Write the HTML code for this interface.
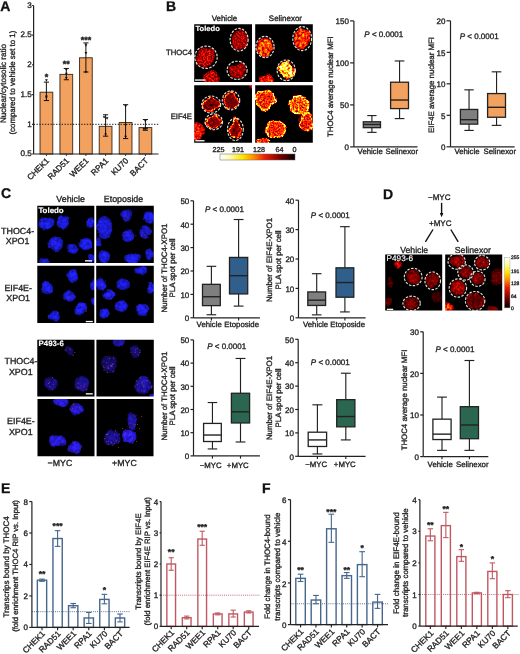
<!DOCTYPE html>
<html><head><meta charset="utf-8"><title>Figure</title>
<style>html,body{margin:0;padding:0;background:#fff;width:520px;height:654px;overflow:hidden}svg{display:block}</style>
</head><body>
<svg width="520" height="654" viewBox="0 0 520 654" font-family='"Liberation Sans", Arial, sans-serif' fill="#222">
<style>text{stroke:#222;stroke-width:0.32px;paint-order:stroke;text-rendering:geometricPrecision}</style>
<rect x="0" y="0" width="520" height="654" fill="#fff" stroke="none" stroke-width="1"/>
<text x="0.3" y="11" font-size="14" font-weight="bold" fill="#111">A</text>
<text x="165.9" y="11" font-size="14" font-weight="bold" fill="#111">B</text>
<text x="1.1" y="198" font-size="14" font-weight="bold" fill="#111">C</text>
<text x="383" y="198.8" font-size="14" font-weight="bold" fill="#111">D</text>
<text x="1" y="492.8" font-size="14" font-weight="bold" fill="#111">E</text>
<text x="262" y="492.8" font-size="14" font-weight="bold" fill="#111">F</text>
<rect x="40.05" y="92.224" width="12.7" height="61.776" fill="#f3a15e" stroke="#4a3424" stroke-width="1"/>
<rect x="59.95" y="74.404" width="12.7" height="79.596" fill="#f3a15e" stroke="#4a3424" stroke-width="1"/>
<rect x="79.55" y="57.772" width="12.7" height="96.228" fill="#f3a15e" stroke="#4a3424" stroke-width="1"/>
<rect x="99.25" y="126.379" width="12.7" height="27.621" fill="#f3a15e" stroke="#4a3424" stroke-width="1"/>
<rect x="119.25" y="122.518" width="12.7" height="31.482" fill="#f3a15e" stroke="#4a3424" stroke-width="1"/>
<rect x="139.05" y="127.567" width="12.7" height="26.433" fill="#f3a15e" stroke="#4a3424" stroke-width="1"/>
<line x1="33.7" y1="124.3" x2="159" y2="124.3" stroke="#111" stroke-width="1" stroke-dasharray="1.3 1.5"/>
<line x1="46.4" y1="82.126" x2="46.4" y2="100.54" stroke="#111" stroke-width="1"/>
<line x1="43.8" y1="82.126" x2="49" y2="82.126" stroke="#111" stroke-width="1"/>
<line x1="43.8" y1="100.54" x2="49" y2="100.54" stroke="#111" stroke-width="1"/>
<path d="M45 79.344L47.8 79.344L46.4 81.744Z" fill="#111"/>
<path d="M45 96.57L47.8 96.57L46.4 98.97Z" fill="#111"/>
<path d="M45 95.382L47.8 95.382L46.4 97.782Z" fill="#111"/>
<line x1="66.3" y1="68.464" x2="66.3" y2="79.75" stroke="#111" stroke-width="1"/>
<line x1="63.7" y1="68.464" x2="68.9" y2="68.464" stroke="#111" stroke-width="1"/>
<line x1="63.7" y1="79.75" x2="68.9" y2="79.75" stroke="#111" stroke-width="1"/>
<path d="M64.9 68.652L67.7 68.652L66.3 71.052Z" fill="#111"/>
<path d="M64.9 76.968L67.7 76.968L66.3 79.368Z" fill="#111"/>
<path d="M64.9 72.81L67.7 72.81L66.3 75.21Z" fill="#111"/>
<line x1="85.9" y1="42.922" x2="85.9" y2="72.028" stroke="#111" stroke-width="1"/>
<line x1="83.3" y1="42.922" x2="88.5" y2="42.922" stroke="#111" stroke-width="1"/>
<line x1="83.3" y1="72.028" x2="88.5" y2="72.028" stroke="#111" stroke-width="1"/>
<path d="M84.5 44.298L87.3 44.298L85.9 46.698Z" fill="#111"/>
<path d="M84.5 52.02L87.3 52.02L85.9 54.42Z" fill="#111"/>
<path d="M84.5 71.028L87.3 71.028L85.9 73.428Z" fill="#111"/>
<line x1="105.6" y1="114.796" x2="105.6" y2="136.18" stroke="#111" stroke-width="1"/>
<line x1="103" y1="114.796" x2="108.2" y2="114.796" stroke="#111" stroke-width="1"/>
<line x1="103" y1="136.18" x2="108.2" y2="136.18" stroke="#111" stroke-width="1"/>
<path d="M102.7 116.172L105.5 116.172L104.1 118.572Z" fill="#111"/>
<path d="M105.7 117.36L108.5 117.36L107.1 119.76Z" fill="#111"/>
<path d="M104.2 133.398L107 133.398L105.6 135.798Z" fill="#111"/>
<line x1="125.6" y1="104.698" x2="125.6" y2="138.556" stroke="#111" stroke-width="1"/>
<line x1="123" y1="104.698" x2="128.2" y2="104.698" stroke="#111" stroke-width="1"/>
<line x1="123" y1="138.556" x2="128.2" y2="138.556" stroke="#111" stroke-width="1"/>
<path d="M124.2 104.886L127 104.886L125.6 107.286Z" fill="#111"/>
<path d="M124.2 123.894L127 123.894L125.6 126.294Z" fill="#111"/>
<path d="M124.2 135.774L127 135.774L125.6 138.174Z" fill="#111"/>
<line x1="145.4" y1="119.548" x2="145.4" y2="130.24" stroke="#111" stroke-width="1"/>
<line x1="142.8" y1="119.548" x2="148" y2="119.548" stroke="#111" stroke-width="1"/>
<line x1="142.8" y1="130.24" x2="148" y2="130.24" stroke="#111" stroke-width="1"/>
<path d="M144 119.736L146.8 119.736L145.4 122.136Z" fill="#111"/>
<path d="M142.5 128.052L145.3 128.052L143.9 130.452Z" fill="#111"/>
<path d="M145.5 127.458L148.3 127.458L146.9 129.858Z" fill="#111"/>
<line x1="33.6" y1="5.5" x2="33.6" y2="154" stroke="#222" stroke-width="1.2"/>
<line x1="32.1" y1="154" x2="33.6" y2="154" stroke="#222" stroke-width="1.2"/>
<text x="31.8" y="156.2" font-size="8.1" text-anchor="end">0.5</text>
<line x1="32.1" y1="124.3" x2="33.6" y2="124.3" stroke="#222" stroke-width="1.2"/>
<text x="31.8" y="126.5" font-size="8.1" text-anchor="end">1</text>
<line x1="32.1" y1="94.6" x2="33.6" y2="94.6" stroke="#222" stroke-width="1.2"/>
<text x="31.8" y="96.8" font-size="8.1" text-anchor="end">1.5</text>
<line x1="32.1" y1="64.9" x2="33.6" y2="64.9" stroke="#222" stroke-width="1.2"/>
<text x="31.8" y="67.1" font-size="8.1" text-anchor="end">2</text>
<line x1="32.1" y1="35.2" x2="33.6" y2="35.2" stroke="#222" stroke-width="1.2"/>
<text x="31.8" y="37.4" font-size="8.1" text-anchor="end">2.5</text>
<line x1="32.1" y1="5.5" x2="33.6" y2="5.5" stroke="#222" stroke-width="1.2"/>
<text x="31.8" y="7.7" font-size="8.1" text-anchor="end">3</text>
<line x1="33.7" y1="154" x2="158.5" y2="154" stroke="#222" stroke-width="1.15"/>
<line x1="46.4" y1="154" x2="46.4" y2="156" stroke="#333" stroke-width="1"/>
<line x1="66.3" y1="154" x2="66.3" y2="156" stroke="#333" stroke-width="1"/>
<line x1="85.9" y1="154" x2="85.9" y2="156" stroke="#333" stroke-width="1"/>
<line x1="105.6" y1="154" x2="105.6" y2="156" stroke="#333" stroke-width="1"/>
<line x1="125.6" y1="154" x2="125.6" y2="156" stroke="#333" stroke-width="1"/>
<line x1="145.4" y1="154" x2="145.4" y2="156" stroke="#333" stroke-width="1"/>
<text x="49.8" y="161.3" font-size="8.2" text-anchor="end" transform="rotate(-45 49.8 161.3)">CHEK1</text>
<text x="69.7" y="161.3" font-size="8.2" text-anchor="end" transform="rotate(-45 69.7 161.3)">RAD51</text>
<text x="89.3" y="161.3" font-size="8.2" text-anchor="end" transform="rotate(-45 89.3 161.3)">WEE1</text>
<text x="109" y="161.3" font-size="8.2" text-anchor="end" transform="rotate(-45 109 161.3)">RPA1</text>
<text x="129" y="161.3" font-size="8.2" text-anchor="end" transform="rotate(-45 129 161.3)">KU70</text>
<text x="148.8" y="161.3" font-size="8.2" text-anchor="end" transform="rotate(-45 148.8 161.3)">BACT</text>
<text x="46.4" y="80.3" font-size="9" text-anchor="middle" font-weight="bold">*</text>
<text x="66.3" y="67.3" font-size="9" text-anchor="middle" font-weight="bold">**</text>
<text x="85.9" y="42.8" font-size="9" text-anchor="middle" font-weight="bold">***</text>
<text x="6.3" y="83.5" font-size="8.1" text-anchor="middle" transform="rotate(-90 6.3 83.5)">Nuclear/cytosolic ratio</text>
<text x="15" y="82.6" font-size="7.9" text-anchor="middle" transform="rotate(-90 15 82.6)">(compared to vehicle set to 1)</text>
<text x="224.5" y="21.1" font-size="7.95" text-anchor="middle">Vehicle</text>
<text x="285.4" y="21.1" font-size="7.95" text-anchor="middle">Selinexor</text>
<text x="192" y="55.3" font-size="7.7" text-anchor="end">THOC4</text>
<text x="192" y="118.6" font-size="7.7" text-anchor="end">EIF4E</text>
<filter id="mf1" filterUnits="userSpaceOnUse" x="194.2" y="24.2" width="57.8" height="57.8" color-interpolation-filters="sRGB"><feTurbulence type="fractalNoise" baseFrequency="0.1" numOctaves="2" seed="11" result="d"/><feDisplacementMap in="SourceGraphic" in2="d" scale="7" xChannelSelector="R" yChannelSelector="G" result="ds"/><feTurbulence type="fractalNoise" baseFrequency="0.55" numOctaves="2" seed="111" result="t"/><feColorMatrix in="t" type="matrix" values="2.3 0 0 0 -0.65  2.3 0 0 0 -0.65  2.3 0 0 0 -0.65  0 0 0 0 1" result="n"/><feComposite in="ds" in2="n" operator="arithmetic" k1="1" k2="0.45" k3="0" k4="0" result="m"/><feFlood flood-color="#000" result="bk"/><feComposite in="m" in2="bk" operator="over" result="o"/><feGaussianBlur in="o" stdDeviation="0.45"/><feComponentTransfer><feFuncR type="table" tableValues="0 0.333 0.667 1 1 1 1 1 1"/><feFuncG type="table" tableValues="0 0 0 0.05 0.36 0.68 1 1 1"/><feFuncB type="table" tableValues="0 0 0 0 0 0 0.05 0.5 1"/></feComponentTransfer></filter>
<clipPath id="cmf1"><rect x="194.2" y="24.2" width="57.8" height="57.8"/></clipPath>
<g clip-path="url(#cmf1)"><g filter="url(#mf1)">
<radialGradient id="rg1_971477686"><stop offset="0" stop-color="#494949"/><stop offset="0.75" stop-color="#434343"/><stop offset="1" stop-color="#313131"/></radialGradient>
<ellipse cx="239.1" cy="39.7" rx="7.8" ry="10.1" fill="url(#rg1_971477686)"/>
<radialGradient id="rg1_999975904"><stop offset="0" stop-color="#4e4e4e"/><stop offset="0.75" stop-color="#484848"/><stop offset="1" stop-color="#353535"/></radialGradient>
<ellipse cx="206" cy="57.3" rx="10" ry="10" fill="url(#rg1_999975904)"/>
<radialGradient id="rg1_970302523"><stop offset="0" stop-color="#464646"/><stop offset="0.75" stop-color="#414141"/><stop offset="1" stop-color="#303030"/></radialGradient>
<ellipse cx="237.1" cy="70.3" rx="8.8" ry="7.9" fill="url(#rg1_970302523)"/>
<radialGradient id="rg1_407811516"><stop offset="0" stop-color="#4e4e4e"/><stop offset="0.75" stop-color="#484848"/><stop offset="1" stop-color="#353535"/></radialGradient>
<ellipse cx="210.9" cy="78.5" rx="9" ry="7.5" fill="url(#rg1_407811516)"/>
</g></g>
<ellipse cx="239.1" cy="39.7" rx="9" ry="11.3" fill="none" stroke="#e4e2dc" stroke-width="1.15" stroke-dasharray="2.5 1.4"/>
<ellipse cx="206" cy="57.3" rx="11.2" ry="11.2" fill="none" stroke="#e4e2dc" stroke-width="1.15" stroke-dasharray="2.5 1.4"/>
<ellipse cx="237.1" cy="70.3" rx="10" ry="9.1" fill="none" stroke="#e4e2dc" stroke-width="1.15" stroke-dasharray="2.5 1.4"/>
<rect x="195" y="79.4" width="10.5" height="1.3" fill="#fff" stroke="none" stroke-width="1"/>
<text x="195.5" y="31.3" font-size="7.6" font-weight="bold" fill="#fff" style="stroke:#fff;stroke-width:0.15px">Toledo</text>
<filter id="mf2" filterUnits="userSpaceOnUse" x="255.2" y="24.2" width="57.6" height="57.8" color-interpolation-filters="sRGB"><feTurbulence type="fractalNoise" baseFrequency="0.1" numOctaves="2" seed="12" result="d"/><feDisplacementMap in="SourceGraphic" in2="d" scale="7" xChannelSelector="R" yChannelSelector="G" result="ds"/><feTurbulence type="fractalNoise" baseFrequency="0.4" numOctaves="2" seed="112" result="t"/><feColorMatrix in="t" type="matrix" values="2 0 0 0 -0.5  2 0 0 0 -0.5  2 0 0 0 -0.5  0 0 0 0 1" result="n"/><feComposite in="ds" in2="n" operator="arithmetic" k1="1" k2="0.45" k3="0" k4="0" result="m"/><feFlood flood-color="#000" result="bk"/><feComposite in="m" in2="bk" operator="over" result="o"/><feGaussianBlur in="o" stdDeviation="0.5"/><feComponentTransfer><feFuncR type="table" tableValues="0 0.333 0.667 1 1 1 1 1 1"/><feFuncG type="table" tableValues="0 0 0 0.05 0.36 0.68 1 1 1"/><feFuncB type="table" tableValues="0 0 0 0 0 0 0.05 0.5 1"/></feComponentTransfer></filter>
<clipPath id="cmf2"><rect x="255.2" y="24.2" width="57.6" height="57.8"/></clipPath>
<g clip-path="url(#cmf2)"><g filter="url(#mf2)">
<radialGradient id="rg2_1019132783"><stop offset="0" stop-color="#838383"/><stop offset="0.75" stop-color="#797979"/><stop offset="1" stop-color="#595959"/></radialGradient>
<ellipse cx="265" cy="47" rx="7.9" ry="9.4" fill="url(#rg2_1019132783)"/>
<radialGradient id="rg2_577662261"><stop offset="0" stop-color="#7b7b7b"/><stop offset="0.75" stop-color="#717171"/><stop offset="1" stop-color="#535353"/></radialGradient>
<ellipse cx="302.2" cy="38.6" rx="8.2" ry="10.8" fill="url(#rg2_577662261)"/>
<radialGradient id="rg2_751158381"><stop offset="0" stop-color="#d2d2d2"/><stop offset="0.75" stop-color="#c1c1c1"/><stop offset="1" stop-color="#8e8e8e"/></radialGradient>
<ellipse cx="286.2" cy="70.3" rx="7.9" ry="9.1" fill="url(#rg2_751158381)"/>
<radialGradient id="rg2_306231922"><stop offset="0" stop-color="#696969"/><stop offset="0.75" stop-color="#606060"/><stop offset="1" stop-color="#474747"/></radialGradient>
<ellipse cx="266.7" cy="81" rx="8" ry="6.5" fill="url(#rg2_306231922)"/>
</g></g>
<ellipse cx="265" cy="47" rx="9.1" ry="10.6" fill="none" stroke="#e4e2dc" stroke-width="1.15" stroke-dasharray="2.5 1.4"/>
<ellipse cx="302.2" cy="38.6" rx="9.4" ry="12" fill="none" stroke="#e4e2dc" stroke-width="1.15" stroke-dasharray="2.5 1.4"/>
<ellipse cx="286.2" cy="70.3" rx="9.1" ry="10.3" fill="none" stroke="#e4e2dc" stroke-width="1.15" stroke-dasharray="2.5 1.4"/>
<filter id="mf3" filterUnits="userSpaceOnUse" x="194.2" y="85.2" width="57.8" height="57.6" color-interpolation-filters="sRGB"><feTurbulence type="fractalNoise" baseFrequency="0.1" numOctaves="2" seed="13" result="d"/><feDisplacementMap in="SourceGraphic" in2="d" scale="7" xChannelSelector="R" yChannelSelector="G" result="ds"/><feTurbulence type="fractalNoise" baseFrequency="0.45" numOctaves="2" seed="113" result="t"/><feColorMatrix in="t" type="matrix" values="2 0 0 0 -0.5  2 0 0 0 -0.5  2 0 0 0 -0.5  0 0 0 0 1" result="n"/><feComposite in="ds" in2="n" operator="arithmetic" k1="1" k2="0.45" k3="0" k4="0" result="m"/><feFlood flood-color="#000" result="bk"/><feComposite in="m" in2="bk" operator="over" result="o"/><feGaussianBlur in="o" stdDeviation="0.5"/><feComponentTransfer><feFuncR type="table" tableValues="0 0.333 0.667 1 1 1 1 1 1"/><feFuncG type="table" tableValues="0 0 0 0.05 0.36 0.68 1 1 1"/><feFuncB type="table" tableValues="0 0 0 0 0 0 0.05 0.5 1"/></feComponentTransfer></filter>
<clipPath id="cmf3"><rect x="194.2" y="85.2" width="57.8" height="57.6"/></clipPath>
<g clip-path="url(#cmf3)"><g filter="url(#mf3)">
<radialGradient id="rg3_556216509"><stop offset="0" stop-color="#2b2b2b"/><stop offset="0.72" stop-color="#303030"/><stop offset="0.9" stop-color="#9e9e9e"/><stop offset="1" stop-color="#7e7e7e"/></radialGradient>
<ellipse cx="211.2" cy="104.5" rx="8.3" ry="7.3" fill="url(#rg3_556216509)"/>
<radialGradient id="rg3_624397381"><stop offset="0" stop-color="#2b2b2b"/><stop offset="0.72" stop-color="#303030"/><stop offset="0.9" stop-color="#999999"/><stop offset="1" stop-color="#7a7a7a"/></radialGradient>
<ellipse cx="231" cy="100.4" rx="7.5" ry="8.3" fill="url(#rg3_624397381)"/>
<radialGradient id="rg3_398839630"><stop offset="0" stop-color="#303030"/><stop offset="0.72" stop-color="#363636"/><stop offset="0.9" stop-color="#999999"/><stop offset="1" stop-color="#7a7a7a"/></radialGradient>
<ellipse cx="213.8" cy="121.8" rx="7.5" ry="6.7" fill="url(#rg3_398839630)"/>
<radialGradient id="rg3_495120841"><stop offset="0" stop-color="#2d2d2d"/><stop offset="0.72" stop-color="#333333"/><stop offset="0.9" stop-color="#a3a3a3"/><stop offset="1" stop-color="#828282"/></radialGradient>
<ellipse cx="235.4" cy="129.3" rx="6.7" ry="10" fill="url(#rg3_495120841)"/>
<radialGradient id="rg3_316023504"><stop offset="0" stop-color="#696969"/><stop offset="0.75" stop-color="#606060"/><stop offset="1" stop-color="#474747"/></radialGradient>
<ellipse cx="198" cy="131" rx="8" ry="8.5" fill="url(#rg3_316023504)"/>
<radialGradient id="rg3_483533712"><stop offset="0" stop-color="#414141"/><stop offset="0.75" stop-color="#3c3c3c"/><stop offset="1" stop-color="#2c2c2c"/></radialGradient>
<ellipse cx="253" cy="86" rx="3" ry="4" fill="url(#rg3_483533712)"/>
</g></g>
<ellipse cx="211.2" cy="104.5" rx="9.5" ry="8.5" fill="none" stroke="#e4e2dc" stroke-width="1.15" stroke-dasharray="2.5 1.4"/>
<ellipse cx="231" cy="100.4" rx="8.7" ry="9.5" fill="none" stroke="#e4e2dc" stroke-width="1.15" stroke-dasharray="2.5 1.4"/>
<ellipse cx="213.8" cy="121.8" rx="8.7" ry="7.9" fill="none" stroke="#e4e2dc" stroke-width="1.15" stroke-dasharray="2.5 1.4"/>
<ellipse cx="235.4" cy="129.3" rx="7.9" ry="11.2" fill="none" stroke="#e4e2dc" stroke-width="1.15" stroke-dasharray="2.5 1.4"/>
<rect x="195.3" y="140.1" width="9.2" height="1.3" fill="#fff" stroke="none" stroke-width="1"/>
<filter id="mf4" filterUnits="userSpaceOnUse" x="255.2" y="85.2" width="57.6" height="57.6" color-interpolation-filters="sRGB"><feTurbulence type="fractalNoise" baseFrequency="0.1" numOctaves="2" seed="14" result="d"/><feDisplacementMap in="SourceGraphic" in2="d" scale="7" xChannelSelector="R" yChannelSelector="G" result="ds"/><feTurbulence type="fractalNoise" baseFrequency="0.55" numOctaves="2" seed="114" result="t"/><feColorMatrix in="t" type="matrix" values="2 0 0 0 -0.5  2 0 0 0 -0.5  2 0 0 0 -0.5  0 0 0 0 1" result="n"/><feComposite in="ds" in2="n" operator="arithmetic" k1="1" k2="0.45" k3="0" k4="0" result="m"/><feFlood flood-color="#000" result="bk"/><feComposite in="m" in2="bk" operator="over" result="o"/><feGaussianBlur in="o" stdDeviation="0.45"/><feComponentTransfer><feFuncR type="table" tableValues="0 0.333 0.667 1 1 1 1 1 1"/><feFuncG type="table" tableValues="0 0 0 0.05 0.36 0.68 1 1 1"/><feFuncB type="table" tableValues="0 0 0 0 0 0 0.05 0.5 1"/></feComponentTransfer></filter>
<clipPath id="cmf4"><rect x="255.2" y="85.2" width="57.6" height="57.6"/></clipPath>
<g clip-path="url(#cmf4)"><g filter="url(#mf4)">
<radialGradient id="rg4_229412538"><stop offset="0" stop-color="#666666"/><stop offset="0.72" stop-color="#727272"/><stop offset="0.9" stop-color="#d1d1d1"/><stop offset="1" stop-color="#a7a7a7"/></radialGradient>
<ellipse cx="265.8" cy="99.6" rx="10" ry="10.4" fill="url(#rg4_229412538)"/>
<radialGradient id="rg4_530289419"><stop offset="0" stop-color="#7a7a7a"/><stop offset="0.72" stop-color="#898989"/><stop offset="0.9" stop-color="#d6d6d6"/><stop offset="1" stop-color="#ababab"/></radialGradient>
<ellipse cx="299.6" cy="104.8" rx="10.4" ry="9.8" fill="url(#rg4_530289419)"/>
<radialGradient id="rg4_582215512"><stop offset="0" stop-color="#606060"/><stop offset="0.72" stop-color="#6c6c6c"/><stop offset="0.9" stop-color="#b2b2b2"/><stop offset="1" stop-color="#8e8e8e"/></radialGradient>
<ellipse cx="306.5" cy="121" rx="7" ry="11" fill="url(#rg4_582215512)"/>
<radialGradient id="rg4_549273730"><stop offset="0" stop-color="#666666"/><stop offset="0.72" stop-color="#727272"/><stop offset="0.9" stop-color="#cccccc"/><stop offset="1" stop-color="#a3a3a3"/></radialGradient>
<ellipse cx="275.6" cy="129.5" rx="10.7" ry="8.7" fill="url(#rg4_549273730)"/>
<radialGradient id="rg4_624952099"><stop offset="0" stop-color="#606060"/><stop offset="0.72" stop-color="#6c6c6c"/><stop offset="0.9" stop-color="#b2b2b2"/><stop offset="1" stop-color="#8e8e8e"/></radialGradient>
<ellipse cx="263.5" cy="143" rx="7" ry="6" fill="url(#rg4_624952099)"/>
</g></g>
<linearGradient id="cbh" x1="0" x2="1" y1="0" y2="0"><stop offset="0" stop-color="#ffffff"/><stop offset="0.12" stop-color="#fffbb8"/><stop offset="0.3" stop-color="#ffe400"/><stop offset="0.45" stop-color="#ff8c00"/><stop offset="0.6" stop-color="#ec1c00"/><stop offset="0.8" stop-color="#7a0000"/><stop offset="1" stop-color="#000"/></linearGradient>
<rect x="220" y="154" width="75" height="6" fill="url(#cbh)" stroke="#666" stroke-width="0.5"/>
<text x="218.5" y="151.7" font-size="7.2" text-anchor="middle">225</text>
<text x="238" y="151.7" font-size="7.2" text-anchor="middle">191</text>
<text x="259" y="151.7" font-size="7.2" text-anchor="middle">128</text>
<text x="279.6" y="151.7" font-size="7.2" text-anchor="middle">64</text>
<text x="294.6" y="151.7" font-size="7.2" text-anchor="middle">0</text>
<line x1="353.9" y1="20.9" x2="353.9" y2="146.9" stroke="#222" stroke-width="1.2"/>
<line x1="350.1" y1="146.9" x2="353.9" y2="146.9" stroke="#222" stroke-width="1.2"/>
<text x="348.9" y="150.2" font-size="8" text-anchor="end">0</text>
<line x1="350.1" y1="104.9" x2="353.9" y2="104.9" stroke="#222" stroke-width="1.2"/>
<text x="348.9" y="108.2" font-size="8" text-anchor="end">50</text>
<line x1="350.1" y1="62.9" x2="353.9" y2="62.9" stroke="#222" stroke-width="1.2"/>
<text x="348.9" y="66.2" font-size="8" text-anchor="end">100</text>
<line x1="350.1" y1="20.9" x2="353.9" y2="20.9" stroke="#222" stroke-width="1.2"/>
<text x="348.9" y="24.2" font-size="8" text-anchor="end">150</text>
<line x1="353.9" y1="146.9" x2="417.5" y2="146.9" stroke="#222" stroke-width="1.15"/>
<line x1="371.9" y1="115.568" x2="371.9" y2="121.784" stroke="#222" stroke-width="1.15"/>
<line x1="371.9" y1="127.664" x2="371.9" y2="132.368" stroke="#222" stroke-width="1.15"/>
<line x1="367.256" y1="115.568" x2="376.544" y2="115.568" stroke="#222" stroke-width="1.15"/>
<line x1="367.256" y1="132.368" x2="376.544" y2="132.368" stroke="#222" stroke-width="1.15"/>
<rect x="363.3" y="121.784" width="17.2" height="5.88" fill="#7f7f7f" stroke="#222" stroke-width="1.3"/>
<line x1="363.3" y1="124.472" x2="380.5" y2="124.472" stroke="#222" stroke-width="1.4"/>
<line x1="399.55" y1="60.968" x2="399.55" y2="82.22" stroke="#222" stroke-width="1.15"/>
<line x1="399.55" y1="108.596" x2="399.55" y2="118.592" stroke="#222" stroke-width="1.15"/>
<line x1="394.717" y1="60.968" x2="404.383" y2="60.968" stroke="#222" stroke-width="1.15"/>
<line x1="394.717" y1="118.592" x2="404.383" y2="118.592" stroke="#222" stroke-width="1.15"/>
<rect x="390.6" y="82.22" width="17.9" height="26.376" fill="#f3a15e" stroke="#222" stroke-width="1.3"/>
<line x1="390.6" y1="100.028" x2="408.5" y2="100.028" stroke="#222" stroke-width="1.4"/>
<text x="333.2" y="86.7" font-size="7.85" text-anchor="middle" transform="rotate(-90 333.2 86.7)">THOC4 average nuclear MFI</text>
<text x="370.2" y="154.4" font-size="7.8" text-anchor="middle">Vehicle</text>
<text x="401.8" y="154.4" font-size="7.8" text-anchor="middle">Selinexor</text>
<text x="383.8" y="36.7" font-size="8" text-anchor="middle"><tspan font-style="italic">P</tspan> &lt; 0.0001</text>
<line x1="450.5" y1="20.8" x2="450.5" y2="146.8" stroke="#222" stroke-width="1.2"/>
<line x1="446.6" y1="146.8" x2="450.5" y2="146.8" stroke="#222" stroke-width="1.2"/>
<text x="445.4" y="150.1" font-size="8" text-anchor="end">0</text>
<line x1="446.6" y1="115.3" x2="450.5" y2="115.3" stroke="#222" stroke-width="1.2"/>
<text x="445.4" y="118.6" font-size="8" text-anchor="end">5</text>
<line x1="446.6" y1="83.8" x2="450.5" y2="83.8" stroke="#222" stroke-width="1.2"/>
<text x="445.4" y="87.1" font-size="8" text-anchor="end">10</text>
<line x1="446.6" y1="52.3" x2="450.5" y2="52.3" stroke="#222" stroke-width="1.2"/>
<text x="445.4" y="55.6" font-size="8" text-anchor="end">15</text>
<line x1="446.6" y1="20.8" x2="450.5" y2="20.8" stroke="#222" stroke-width="1.2"/>
<text x="445.4" y="24.1" font-size="8" text-anchor="end">20</text>
<line x1="450.5" y1="146.8" x2="514.6" y2="146.8" stroke="#222" stroke-width="1.15"/>
<line x1="469.05" y1="89.848" x2="469.05" y2="109.441" stroke="#222" stroke-width="1.15"/>
<line x1="469.05" y1="124.12" x2="469.05" y2="130.42" stroke="#222" stroke-width="1.15"/>
<line x1="464.379" y1="89.848" x2="473.721" y2="89.848" stroke="#222" stroke-width="1.15"/>
<line x1="464.379" y1="130.42" x2="473.721" y2="130.42" stroke="#222" stroke-width="1.15"/>
<rect x="460.4" y="109.441" width="17.3" height="14.679" fill="#7f7f7f" stroke="#222" stroke-width="1.3"/>
<line x1="460.4" y1="119.71" x2="477.7" y2="119.71" stroke="#222" stroke-width="1.4"/>
<line x1="496.55" y1="71.83" x2="496.55" y2="93.565" stroke="#222" stroke-width="1.15"/>
<line x1="496.55" y1="117.253" x2="496.55" y2="125.38" stroke="#222" stroke-width="1.15"/>
<line x1="491.717" y1="71.83" x2="501.383" y2="71.83" stroke="#222" stroke-width="1.15"/>
<line x1="491.717" y1="125.38" x2="501.383" y2="125.38" stroke="#222" stroke-width="1.15"/>
<rect x="487.6" y="93.565" width="17.9" height="23.688" fill="#f3a15e" stroke="#222" stroke-width="1.3"/>
<line x1="487.6" y1="107.299" x2="505.5" y2="107.299" stroke="#222" stroke-width="1.4"/>
<text x="433.5" y="85" font-size="7.85" text-anchor="middle" transform="rotate(-90 433.5 85)">EIF4E average nuclear MFI</text>
<text x="467" y="154.2" font-size="7.8" text-anchor="middle">Vehicle</text>
<text x="499.8" y="154.2" font-size="7.8" text-anchor="middle">Selinexor</text>
<text x="479.2" y="39.2" font-size="8" text-anchor="middle"><tspan font-style="italic">P</tspan> &lt; 0.0001</text>
<text x="70.6" y="202" font-size="8.9" text-anchor="middle">Vehicle</text>
<text x="123.5" y="202" font-size="8.9" text-anchor="middle">Etoposide</text>
<text x="17.6" y="233.6" font-size="8.9" text-anchor="middle">THOC4-</text>
<text x="17.6" y="244.2" font-size="8.9" text-anchor="middle">XPO1</text>
<text x="18.2" y="290.5" font-size="8.9" text-anchor="middle">EIF4E-</text>
<text x="18.2" y="301.1" font-size="8.9" text-anchor="middle">XPO1</text>
<filter id="mf5" filterUnits="userSpaceOnUse" x="37.3" y="205.8" width="57" height="57.2" color-interpolation-filters="sRGB"><feTurbulence type="fractalNoise" baseFrequency="0.1" numOctaves="2" seed="21" result="d"/><feDisplacementMap in="SourceGraphic" in2="d" scale="5" xChannelSelector="R" yChannelSelector="G" result="ds"/><feTurbulence type="fractalNoise" baseFrequency="0.3" numOctaves="2" seed="121" result="t"/><feColorMatrix in="t" type="matrix" values="1 0 0 0 -0  1 0 0 0 -0  1 0 0 0 -0  0 0 0 0 1" result="n"/><feComposite in="ds" in2="n" operator="arithmetic" k1="1" k2="0.45" k3="0" k4="0" result="m"/><feFlood flood-color="#000" result="bk"/><feComposite in="m" in2="bk" operator="over" result="o"/><feGaussianBlur in="o" stdDeviation="0.7"/></filter>
<clipPath id="cmf5"><rect x="37.3" y="205.8" width="57" height="57.2"/></clipPath>
<g clip-path="url(#cmf5)"><g filter="url(#mf5)">
<radialGradient id="rg5_354226307"><stop offset="0" stop-color="#2121ff"/><stop offset="0.65" stop-color="#1e1ef0"/><stop offset="1" stop-color="#14149c"/></radialGradient>
<ellipse cx="46" cy="223" rx="7.5" ry="6.5" fill="url(#rg5_354226307)"/>
<radialGradient id="rg5_897634528"><stop offset="0" stop-color="#1f1ff7"/><stop offset="0.65" stop-color="#1d1de3"/><stop offset="1" stop-color="#131394"/></radialGradient>
<ellipse cx="62.7" cy="222" rx="6.5" ry="7" fill="url(#rg5_897634528)"/>
<radialGradient id="rg5_897712761"><stop offset="0" stop-color="#1f1ff7"/><stop offset="0.65" stop-color="#1d1de3"/><stop offset="1" stop-color="#131394"/></radialGradient>
<ellipse cx="91" cy="223" rx="5" ry="6" fill="url(#rg5_897712761)"/>
<radialGradient id="rg5_603994827"><stop offset="0" stop-color="#2020fd"/><stop offset="0.65" stop-color="#1d1de8"/><stop offset="1" stop-color="#131397"/></radialGradient>
<ellipse cx="55.8" cy="243.8" rx="7.5" ry="7.5" fill="url(#rg5_603994827)"/>
<radialGradient id="rg5_1028860422"><stop offset="0" stop-color="#1d1de9"/><stop offset="0.65" stop-color="#1b1bd7"/><stop offset="1" stop-color="#11118c"/></radialGradient>
<ellipse cx="73" cy="249.6" rx="5.5" ry="5.5" fill="url(#rg5_1028860422)"/>
<radialGradient id="rg5_463887275"><stop offset="0" stop-color="#2121ff"/><stop offset="0.65" stop-color="#1e1ef0"/><stop offset="1" stop-color="#14149c"/></radialGradient>
<ellipse cx="85.8" cy="243.8" rx="6.5" ry="6.5" fill="url(#rg5_463887275)"/>
<radialGradient id="rg5_1019297213"><stop offset="0" stop-color="#1d1de9"/><stop offset="0.65" stop-color="#1b1bd7"/><stop offset="1" stop-color="#11118c"/></radialGradient>
<ellipse cx="44" cy="261" rx="5" ry="3.5" fill="url(#rg5_1019297213)"/>
<radialGradient id="rg5_394237833"><stop offset="0" stop-color="#1c1cdc"/><stop offset="0.65" stop-color="#1919ca"/><stop offset="1" stop-color="#101084"/></radialGradient>
<ellipse cx="92" cy="258" rx="4" ry="4" fill="url(#rg5_394237833)"/>
</g></g>
<rect x="52.2" y="243.7" width="1" height="1" fill="#c02050" opacity="0.6"/>
<rect x="60.4" y="243.9" width="1" height="1" fill="#c02050" opacity="0.6"/>
<rect x="54.1" y="242.8" width="1" height="1" fill="#c02050" opacity="0.6"/>
<rect x="85" y="260.2" width="7" height="1.3" fill="#fff" stroke="none" stroke-width="1"/>
<text x="38.4" y="212.5" font-size="7.9" font-weight="bold" fill="#fff" style="stroke:#fff;stroke-width:0.15px">Toledo</text>
<filter id="mf6" filterUnits="userSpaceOnUse" x="96.2" y="205.8" width="57.6" height="57.2" color-interpolation-filters="sRGB"><feTurbulence type="fractalNoise" baseFrequency="0.1" numOctaves="2" seed="22" result="d"/><feDisplacementMap in="SourceGraphic" in2="d" scale="5" xChannelSelector="R" yChannelSelector="G" result="ds"/><feTurbulence type="fractalNoise" baseFrequency="0.3" numOctaves="2" seed="122" result="t"/><feColorMatrix in="t" type="matrix" values="1 0 0 0 -0  1 0 0 0 -0  1 0 0 0 -0  0 0 0 0 1" result="n"/><feComposite in="ds" in2="n" operator="arithmetic" k1="1" k2="0.45" k3="0" k4="0" result="m"/><feFlood flood-color="#000" result="bk"/><feComposite in="m" in2="bk" operator="over" result="o"/><feGaussianBlur in="o" stdDeviation="0.7"/></filter>
<clipPath id="cmf6"><rect x="96.2" y="205.8" width="57.6" height="57.2"/></clipPath>
<g clip-path="url(#cmf6)"><g filter="url(#mf6)">
<radialGradient id="rg6_301439263"><stop offset="0" stop-color="#1f1ff7"/><stop offset="0.65" stop-color="#1d1de3"/><stop offset="1" stop-color="#131394"/></radialGradient>
<ellipse cx="104.5" cy="227.5" rx="8" ry="11.5" fill="url(#rg6_301439263)"/>
<radialGradient id="rg6_521016169"><stop offset="0" stop-color="#1d1de9"/><stop offset="0.65" stop-color="#1b1bd7"/><stop offset="1" stop-color="#11118c"/></radialGradient>
<ellipse cx="126.2" cy="215" rx="6" ry="6.5" fill="url(#rg6_521016169)"/>
<radialGradient id="rg6_50715282"><stop offset="0" stop-color="#1f1ff7"/><stop offset="0.65" stop-color="#1d1de3"/><stop offset="1" stop-color="#131394"/></radialGradient>
<ellipse cx="149" cy="217.3" rx="5.5" ry="6" fill="url(#rg6_50715282)"/>
<radialGradient id="rg6_960211763"><stop offset="0" stop-color="#1f1ff7"/><stop offset="0.65" stop-color="#1d1de3"/><stop offset="1" stop-color="#131394"/></radialGradient>
<ellipse cx="128.5" cy="235.8" rx="7" ry="6.5" fill="url(#rg6_960211763)"/>
<radialGradient id="rg6_395681686"><stop offset="0" stop-color="#1c1cdc"/><stop offset="0.65" stop-color="#1919ca"/><stop offset="1" stop-color="#101084"/></radialGradient>
<ellipse cx="145.3" cy="232.3" rx="6" ry="6.5" fill="url(#rg6_395681686)"/>
<radialGradient id="rg6_258969487"><stop offset="0" stop-color="#1f1ff7"/><stop offset="0.65" stop-color="#1d1de3"/><stop offset="1" stop-color="#131394"/></radialGradient>
<ellipse cx="104.3" cy="256.5" rx="6" ry="6" fill="url(#rg6_258969487)"/>
<radialGradient id="rg6_742266634"><stop offset="0" stop-color="#2121ff"/><stop offset="0.65" stop-color="#1e1ef0"/><stop offset="1" stop-color="#14149c"/></radialGradient>
<ellipse cx="132" cy="258.5" rx="8" ry="6" fill="url(#rg6_742266634)"/>
<radialGradient id="rg6_171063083"><stop offset="0" stop-color="#1d1de9"/><stop offset="0.65" stop-color="#1b1bd7"/><stop offset="1" stop-color="#11118c"/></radialGradient>
<ellipse cx="149" cy="254.2" rx="5" ry="6" fill="url(#rg6_171063083)"/>
<radialGradient id="rg6_497661061"><stop offset="0" stop-color="#1c1cdc"/><stop offset="0.65" stop-color="#1919ca"/><stop offset="1" stop-color="#101084"/></radialGradient>
<ellipse cx="98" cy="241.5" rx="3" ry="4" fill="url(#rg6_497661061)"/>
</g></g>
<rect x="104.3" y="230.0" width="1" height="1" fill="#c02050" opacity="0.6"/>
<rect x="107.8" y="226.8" width="1" height="1" fill="#c02050" opacity="0.6"/>
<rect x="98.0" y="224.3" width="1" height="1" fill="#c02050" opacity="0.6"/>
<rect x="97.7" y="232.1" width="1" height="1" fill="#c02050" opacity="0.6"/>
<rect x="125.4" y="214.6" width="1" height="1" fill="#c02050" opacity="0.6"/>
<rect x="125.9" y="219.2" width="1" height="1" fill="#c02050" opacity="0.6"/>
<rect x="127.0" y="217.0" width="1" height="1" fill="#c02050" opacity="0.6"/>
<rect x="122.6" y="234.7" width="1" height="1" fill="#c02050" opacity="0.6"/>
<rect x="135.3" y="235.1" width="1" height="1" fill="#c02050" opacity="0.6"/>
<rect x="148.5" y="233.7" width="1" height="1" fill="#c02050" opacity="0.6"/>
<rect x="144.0" y="234.7" width="1" height="1" fill="#c02050" opacity="0.6"/>
<rect x="140.8" y="236.1" width="1" height="1" fill="#c02050" opacity="0.6"/>
<rect x="149.3" y="227.7" width="1" height="1" fill="#c02050" opacity="0.6"/>
<rect x="142.1" y="232.0" width="1" height="1" fill="#c02050" opacity="0.6"/>
<rect x="144.7" y="237.7" width="1" height="1" fill="#c02050" opacity="0.6"/>
<filter id="mf7" filterUnits="userSpaceOnUse" x="37.3" y="265.8" width="57" height="57.2" color-interpolation-filters="sRGB"><feTurbulence type="fractalNoise" baseFrequency="0.1" numOctaves="2" seed="23" result="d"/><feDisplacementMap in="SourceGraphic" in2="d" scale="5" xChannelSelector="R" yChannelSelector="G" result="ds"/><feTurbulence type="fractalNoise" baseFrequency="0.3" numOctaves="2" seed="123" result="t"/><feColorMatrix in="t" type="matrix" values="1 0 0 0 -0  1 0 0 0 -0  1 0 0 0 -0  0 0 0 0 1" result="n"/><feComposite in="ds" in2="n" operator="arithmetic" k1="1" k2="0.45" k3="0" k4="0" result="m"/><feFlood flood-color="#000" result="bk"/><feComposite in="m" in2="bk" operator="over" result="o"/><feGaussianBlur in="o" stdDeviation="0.7"/></filter>
<clipPath id="cmf7"><rect x="37.3" y="265.8" width="57" height="57.2"/></clipPath>
<g clip-path="url(#cmf7)"><g filter="url(#mf7)">
<radialGradient id="rg7_622591254"><stop offset="0" stop-color="#2121ff"/><stop offset="0.65" stop-color="#1e1ef0"/><stop offset="1" stop-color="#14149c"/></radialGradient>
<ellipse cx="73" cy="276" rx="6" ry="6" fill="url(#rg7_622591254)"/>
<radialGradient id="rg7_179423724"><stop offset="0" stop-color="#2121ff"/><stop offset="0.65" stop-color="#1e1ef0"/><stop offset="1" stop-color="#14149c"/></radialGradient>
<ellipse cx="47.7" cy="287.7" rx="6.5" ry="6.5" fill="url(#rg7_179423724)"/>
<radialGradient id="rg7_36671725"><stop offset="0" stop-color="#1f1ff7"/><stop offset="0.65" stop-color="#1d1de3"/><stop offset="1" stop-color="#131394"/></radialGradient>
<ellipse cx="69.6" cy="295.8" rx="6.5" ry="6" fill="url(#rg7_36671725)"/>
<radialGradient id="rg7_658727549"><stop offset="0" stop-color="#2121ff"/><stop offset="0.65" stop-color="#1e1ef0"/><stop offset="1" stop-color="#14149c"/></radialGradient>
<ellipse cx="81.2" cy="308.5" rx="6" ry="6" fill="url(#rg7_658727549)"/>
<radialGradient id="rg7_909990628"><stop offset="0" stop-color="#2121ff"/><stop offset="0.65" stop-color="#1e1ef0"/><stop offset="1" stop-color="#14149c"/></radialGradient>
<ellipse cx="54.6" cy="316" rx="6" ry="5.5" fill="url(#rg7_909990628)"/>
<radialGradient id="rg7_814293600"><stop offset="0" stop-color="#1d1de9"/><stop offset="0.65" stop-color="#1b1bd7"/><stop offset="1" stop-color="#11118c"/></radialGradient>
<ellipse cx="93.5" cy="285.4" rx="3.5" ry="6" fill="url(#rg7_814293600)"/>
<radialGradient id="rg7_768970614"><stop offset="0" stop-color="#1d1de9"/><stop offset="0.65" stop-color="#1b1bd7"/><stop offset="1" stop-color="#11118c"/></radialGradient>
<ellipse cx="93.5" cy="301.5" rx="3" ry="5" fill="url(#rg7_768970614)"/>
</g></g>
<rect x="71.5" y="297.7" width="1" height="1" fill="#c02050" opacity="0.6"/>
<rect x="66.7" y="296.8" width="1" height="1" fill="#c02050" opacity="0.6"/>
<rect x="68.6" y="296.1" width="1" height="1" fill="#c02050" opacity="0.6"/>
<rect x="85.5" y="311.1" width="1" height="1" fill="#c02050" opacity="0.6"/>
<rect x="77.4" y="310.5" width="1" height="1" fill="#c02050" opacity="0.6"/>
<rect x="80.8" y="304.9" width="1" height="1" fill="#c02050" opacity="0.6"/>
<rect x="86.2" y="310.4" width="1" height="1" fill="#c02050" opacity="0.6"/>
<rect x="85.8" y="320.9" width="7" height="1.3" fill="#fff" stroke="none" stroke-width="1"/>
<filter id="mf8" filterUnits="userSpaceOnUse" x="96.2" y="265.8" width="57.6" height="57.2" color-interpolation-filters="sRGB"><feTurbulence type="fractalNoise" baseFrequency="0.1" numOctaves="2" seed="24" result="d"/><feDisplacementMap in="SourceGraphic" in2="d" scale="5" xChannelSelector="R" yChannelSelector="G" result="ds"/><feTurbulence type="fractalNoise" baseFrequency="0.3" numOctaves="2" seed="124" result="t"/><feColorMatrix in="t" type="matrix" values="1 0 0 0 -0  1 0 0 0 -0  1 0 0 0 -0  0 0 0 0 1" result="n"/><feComposite in="ds" in2="n" operator="arithmetic" k1="1" k2="0.45" k3="0" k4="0" result="m"/><feFlood flood-color="#000" result="bk"/><feComposite in="m" in2="bk" operator="over" result="o"/><feGaussianBlur in="o" stdDeviation="0.7"/></filter>
<clipPath id="cmf8"><rect x="96.2" y="265.8" width="57.6" height="57.2"/></clipPath>
<g clip-path="url(#cmf8)"><g filter="url(#mf8)">
<radialGradient id="rg8_822187008"><stop offset="0" stop-color="#1d1de9"/><stop offset="0.65" stop-color="#1b1bd7"/><stop offset="1" stop-color="#11118c"/></radialGradient>
<ellipse cx="141.2" cy="270.4" rx="6" ry="5" fill="url(#rg8_822187008)"/>
<radialGradient id="rg8_392113098"><stop offset="0" stop-color="#2121ff"/><stop offset="0.65" stop-color="#1e1ef0"/><stop offset="1" stop-color="#14149c"/></radialGradient>
<ellipse cx="100.8" cy="284.2" rx="6" ry="6" fill="url(#rg8_392113098)"/>
<radialGradient id="rg8_468727357"><stop offset="0" stop-color="#1d1de9"/><stop offset="0.65" stop-color="#1b1bd7"/><stop offset="1" stop-color="#11118c"/></radialGradient>
<ellipse cx="122.7" cy="284.2" rx="6.5" ry="6" fill="url(#rg8_468727357)"/>
<radialGradient id="rg8_359337642"><stop offset="0" stop-color="#1f1ff7"/><stop offset="0.65" stop-color="#1d1de3"/><stop offset="1" stop-color="#131394"/></radialGradient>
<ellipse cx="151" cy="287.7" rx="4" ry="6" fill="url(#rg8_359337642)"/>
<radialGradient id="rg8_416816874"><stop offset="0" stop-color="#2222ff"/><stop offset="0.65" stop-color="#1f1ff8"/><stop offset="1" stop-color="#1414a2"/></radialGradient>
<ellipse cx="108.9" cy="294.6" rx="5.5" ry="5.5" fill="url(#rg8_416816874)"/>
<radialGradient id="rg8_363727301"><stop offset="0" stop-color="#1f1ff7"/><stop offset="0.65" stop-color="#1d1de3"/><stop offset="1" stop-color="#131394"/></radialGradient>
<ellipse cx="121.5" cy="306.2" rx="6" ry="6" fill="url(#rg8_363727301)"/>
<radialGradient id="rg8_197110241"><stop offset="0" stop-color="#2121ff"/><stop offset="0.65" stop-color="#1e1ef0"/><stop offset="1" stop-color="#14149c"/></radialGradient>
<ellipse cx="142.3" cy="309.6" rx="7" ry="6.5" fill="url(#rg8_197110241)"/>
<radialGradient id="rg8_324914828"><stop offset="0" stop-color="#1f1ff7"/><stop offset="0.65" stop-color="#1d1de3"/><stop offset="1" stop-color="#131394"/></radialGradient>
<ellipse cx="104.3" cy="313" rx="5" ry="5.5" fill="url(#rg8_324914828)"/>
</g></g>
<rect x="101.9" y="281.2" width="1" height="1" fill="#c02050" opacity="0.6"/>
<rect x="101.4" y="283.9" width="1" height="1" fill="#c02050" opacity="0.6"/>
<rect x="95.8" y="285.2" width="1" height="1" fill="#c02050" opacity="0.6"/>
<rect x="108.3" y="293.9" width="1" height="1" fill="#c02050" opacity="0.6"/>
<rect x="110.8" y="298.0" width="1" height="1" fill="#c02050" opacity="0.6"/>
<rect x="111.5" y="290.8" width="1" height="1" fill="#c02050" opacity="0.6"/>
<rect x="115.5" y="306.2" width="1" height="1" fill="#c02050" opacity="0.6"/>
<rect x="120.3" y="303.4" width="1" height="1" fill="#c02050" opacity="0.6"/>
<rect x="137.9" y="306.1" width="1" height="1" fill="#c02050" opacity="0.6"/>
<rect x="144.2" y="309.2" width="1" height="1" fill="#c02050" opacity="0.6"/>
<rect x="138.9" y="305.3" width="1" height="1" fill="#c02050" opacity="0.6"/>
<text x="21" y="363.8" font-size="8.9" text-anchor="middle">THOC4-</text>
<text x="20.8" y="374.8" font-size="8.9" text-anchor="middle">XPO1</text>
<text x="20.9" y="424.3" font-size="8.9" text-anchor="middle">EIF4E-</text>
<text x="20.8" y="435.3" font-size="8.9" text-anchor="middle">XPO1</text>
<text x="59.9" y="465.9" font-size="8.8" text-anchor="middle">−MYC</text>
<text x="124.4" y="465.9" font-size="8.8" text-anchor="middle">+MYC</text>
<filter id="mf9" filterUnits="userSpaceOnUse" x="37.3" y="339.7" width="57.2" height="56.8" color-interpolation-filters="sRGB"><feTurbulence type="fractalNoise" baseFrequency="0.1" numOctaves="2" seed="31" result="d"/><feDisplacementMap in="SourceGraphic" in2="d" scale="5" xChannelSelector="R" yChannelSelector="G" result="ds"/><feTurbulence type="fractalNoise" baseFrequency="0.3" numOctaves="2" seed="131" result="t"/><feColorMatrix in="t" type="matrix" values="1 0 0 0 -0  1 0 0 0 -0  1 0 0 0 -0  0 0 0 0 1" result="n"/><feComposite in="ds" in2="n" operator="arithmetic" k1="1" k2="0.45" k3="0" k4="0" result="m"/><feFlood flood-color="#000" result="bk"/><feComposite in="m" in2="bk" operator="over" result="o"/><feGaussianBlur in="o" stdDeviation="0.7"/></filter>
<clipPath id="cmf9"><rect x="37.3" y="339.7" width="57.2" height="56.8"/></clipPath>
<g clip-path="url(#cmf9)"><g filter="url(#mf9)">
<radialGradient id="rg9_26367329"><stop offset="0" stop-color="#140d6e"/><stop offset="0.65" stop-color="#130c66"/><stop offset="1" stop-color="#0c0842"/></radialGradient>
<ellipse cx="69.2" cy="350.6" rx="5.4" ry="5.2" fill="url(#rg9_26367329)"/>
<radialGradient id="rg9_1008411487"><stop offset="0" stop-color="#1b1291"/><stop offset="0.65" stop-color="#191085"/><stop offset="1" stop-color="#100a57"/></radialGradient>
<ellipse cx="51.1" cy="383.5" rx="7" ry="7" fill="url(#rg9_1008411487)"/>
<radialGradient id="rg9_241374706"><stop offset="0" stop-color="#1e14a3"/><stop offset="0.65" stop-color="#1c1296"/><stop offset="1" stop-color="#120c62"/></radialGradient>
<ellipse cx="82.3" cy="383.8" rx="7" ry="7.7" fill="url(#rg9_241374706)"/>
</g></g>
<rect x="69.4" y="348.7" width="1" height="1" fill="#c850b8" opacity="0.6"/>
<rect x="74.3" y="352.0" width="1" height="1" fill="#c850b8" opacity="0.6"/>
<rect x="64.8" y="349.6" width="1" height="1" fill="#c850b8" opacity="0.6"/>
<rect x="72.6" y="354.6" width="1" height="1" fill="#c850b8" opacity="0.6"/>
<rect x="52.8" y="383.9" width="1" height="1" fill="#c850b8" opacity="0.6"/>
<rect x="51.8" y="389.4" width="1" height="1" fill="#c850b8" opacity="0.6"/>
<rect x="48.0" y="383.0" width="1" height="1" fill="#c850b8" opacity="0.6"/>
<rect x="49.1" y="382.2" width="1" height="1" fill="#c850b8" opacity="0.6"/>
<rect x="51.9" y="377.0" width="1" height="1" fill="#c850b8" opacity="0.6"/>
<rect x="49.4" y="386.2" width="1" height="1" fill="#c850b8" opacity="0.6"/>
<rect x="78.1" y="387.5" width="1" height="1" fill="#e04070" opacity="0.6"/>
<rect x="82.4" y="390.4" width="1" height="1" fill="#e04070" opacity="0.6"/>
<rect x="77.4" y="386.9" width="1" height="1" fill="#e04070" opacity="0.6"/>
<rect x="83.8" y="384.4" width="1" height="1" fill="#e04070" opacity="0.6"/>
<rect x="83.4" y="386.4" width="1" height="1" fill="#e04070" opacity="0.6"/>
<rect x="86.0" y="389.3" width="1" height="1" fill="#e04070" opacity="0.6"/>
<rect x="80.8" y="385.4" width="1" height="1" fill="#e04070" opacity="0.6"/>
<rect x="77.8" y="382.8" width="1" height="1" fill="#e04070" opacity="0.6"/>
<rect x="85.8" y="393.2" width="7" height="1.3" fill="#fff" stroke="none" stroke-width="1"/>
<text x="38.6" y="346.3" font-size="7.8" font-weight="bold" fill="#fff" style="stroke:#fff;stroke-width:0.15px">P493-6</text>
<filter id="mf10" filterUnits="userSpaceOnUse" x="96.4" y="339.7" width="57.4" height="56.8" color-interpolation-filters="sRGB"><feTurbulence type="fractalNoise" baseFrequency="0.1" numOctaves="2" seed="32" result="d"/><feDisplacementMap in="SourceGraphic" in2="d" scale="5" xChannelSelector="R" yChannelSelector="G" result="ds"/><feTurbulence type="fractalNoise" baseFrequency="0.3" numOctaves="2" seed="132" result="t"/><feColorMatrix in="t" type="matrix" values="1 0 0 0 -0  1 0 0 0 -0  1 0 0 0 -0  0 0 0 0 1" result="n"/><feComposite in="ds" in2="n" operator="arithmetic" k1="1" k2="0.45" k3="0" k4="0" result="m"/><feFlood flood-color="#000" result="bk"/><feComposite in="m" in2="bk" operator="over" result="o"/><feGaussianBlur in="o" stdDeviation="0.7"/></filter>
<clipPath id="cmf10"><rect x="96.4" y="339.7" width="57.4" height="56.8"/></clipPath>
<g clip-path="url(#cmf10)"><g filter="url(#mf10)">
<radialGradient id="rg10_166262001"><stop offset="0" stop-color="#2015ab"/><stop offset="0.65" stop-color="#1d139d"/><stop offset="1" stop-color="#130c66"/></radialGradient>
<ellipse cx="119.2" cy="341.5" rx="5.8" ry="4.5" fill="url(#rg10_166262001)"/>
<radialGradient id="rg10_458738575"><stop offset="0" stop-color="#181084"/><stop offset="0.65" stop-color="#160f79"/><stop offset="1" stop-color="#0e094f"/></radialGradient>
<ellipse cx="134.8" cy="351.7" rx="5.2" ry="6.3" fill="url(#rg10_458738575)"/>
<radialGradient id="rg10_310622925"><stop offset="0" stop-color="#160e76"/><stop offset="0.65" stop-color="#140d6d"/><stop offset="1" stop-color="#0d0847"/></radialGradient>
<ellipse cx="109.4" cy="364.4" rx="7.5" ry="8.6" fill="url(#rg10_310622925)"/>
<radialGradient id="rg10_650963150"><stop offset="0" stop-color="#2116b3"/><stop offset="0.65" stop-color="#1e14a5"/><stop offset="1" stop-color="#140d6b"/></radialGradient>
<ellipse cx="142.8" cy="385.2" rx="8.7" ry="8.7" fill="url(#rg10_650963150)"/>
<radialGradient id="rg10_510660790"><stop offset="0" stop-color="#271ad3"/><stop offset="0.65" stop-color="#2418c2"/><stop offset="1" stop-color="#170f7e"/></radialGradient>
<ellipse cx="153" cy="395.5" rx="3" ry="3" fill="url(#rg10_510660790)"/>
</g></g>
<rect x="130.4" y="351.8" width="1" height="1" fill="#c850b8" opacity="0.6"/>
<rect x="137.8" y="354.3" width="1" height="1" fill="#c850b8" opacity="0.6"/>
<rect x="136.9" y="347.9" width="1" height="1" fill="#c850b8" opacity="0.6"/>
<rect x="139.4" y="349.7" width="1" height="1" fill="#c850b8" opacity="0.6"/>
<rect x="134.7" y="351.8" width="1" height="1" fill="#c850b8" opacity="0.6"/>
<rect x="134.9" y="349.5" width="1" height="1" fill="#c850b8" opacity="0.6"/>
<rect x="139.2" y="352.0" width="1" height="1" fill="#c850b8" opacity="0.6"/>
<rect x="113.2" y="357.8" width="1" height="1" fill="#c850b8" opacity="0.6"/>
<rect x="112.6" y="363.3" width="1" height="1" fill="#c850b8" opacity="0.6"/>
<rect x="111.7" y="365.9" width="1" height="1" fill="#c850b8" opacity="0.6"/>
<rect x="111.9" y="364.0" width="1" height="1" fill="#c850b8" opacity="0.6"/>
<rect x="110.0" y="365.4" width="1" height="1" fill="#c850b8" opacity="0.6"/>
<rect x="110.8" y="364.9" width="1" height="1" fill="#c850b8" opacity="0.6"/>
<rect x="107.6" y="367.2" width="1" height="1" fill="#c850b8" opacity="0.6"/>
<rect x="106.8" y="372.1" width="1" height="1" fill="#c850b8" opacity="0.6"/>
<rect x="112.8" y="371.1" width="1" height="1" fill="#c850b8" opacity="0.6"/>
<rect x="109.0" y="357.9" width="1" height="1" fill="#c850b8" opacity="0.6"/>
<rect x="103.5" y="360.9" width="1" height="1" fill="#c850b8" opacity="0.6"/>
<rect x="106.3" y="362.3" width="1" height="1" fill="#c850b8" opacity="0.6"/>
<rect x="107.6" y="368.1" width="1" height="1" fill="#c850b8" opacity="0.6"/>
<rect x="103.4" y="369.4" width="1" height="1" fill="#c850b8" opacity="0.6"/>
<rect x="107.6" y="365.4" width="1" height="1" fill="#c850b8" opacity="0.6"/>
<rect x="102.7" y="365.5" width="1" height="1" fill="#c850b8" opacity="0.6"/>
<rect x="103.5" y="366.8" width="1" height="1" fill="#c850b8" opacity="0.6"/>
<rect x="111.0" y="365.6" width="1" height="1" fill="#c850b8" opacity="0.6"/>
<rect x="141.8" y="383.6" width="1" height="1" fill="#c850b8" opacity="0.6"/>
<rect x="141.1" y="390.3" width="1" height="1" fill="#c850b8" opacity="0.6"/>
<rect x="143.4" y="386.8" width="1" height="1" fill="#c850b8" opacity="0.6"/>
<rect x="151.3" y="385.6" width="1" height="1" fill="#c850b8" opacity="0.6"/>
<rect x="139.6" y="377.3" width="1" height="1" fill="#c850b8" opacity="0.6"/>
<rect x="134.3" y="385.6" width="1" height="1" fill="#c850b8" opacity="0.6"/>
<rect x="147.2" y="380.0" width="1" height="1" fill="#c850b8" opacity="0.6"/>
<rect x="136.7" y="384.2" width="1" height="1" fill="#c850b8" opacity="0.6"/>
<rect x="143.6" y="390.5" width="1" height="1" fill="#c850b8" opacity="0.6"/>
<rect x="142.1" y="381.4" width="1" height="1" fill="#c850b8" opacity="0.6"/>
<rect x="146.4" y="380.2" width="1" height="1" fill="#c850b8" opacity="0.6"/>
<rect x="136.5" y="380.4" width="1" height="1" fill="#c850b8" opacity="0.6"/>
<rect x="140.8" y="382.6" width="1" height="1" fill="#c850b8" opacity="0.6"/>
<rect x="142.8" y="385.5" width="1" height="1" fill="#c850b8" opacity="0.6"/>
<rect x="151.2" y="386.7" width="1" height="1" fill="#c850b8" opacity="0.6"/>
<rect x="135.7" y="380.5" width="1" height="1" fill="#c850b8" opacity="0.6"/>
<filter id="mf11" filterUnits="userSpaceOnUse" x="37.5" y="399" width="57" height="57.3" color-interpolation-filters="sRGB"><feTurbulence type="fractalNoise" baseFrequency="0.1" numOctaves="2" seed="33" result="d"/><feDisplacementMap in="SourceGraphic" in2="d" scale="5" xChannelSelector="R" yChannelSelector="G" result="ds"/><feTurbulence type="fractalNoise" baseFrequency="0.3" numOctaves="2" seed="133" result="t"/><feColorMatrix in="t" type="matrix" values="1 0 0 0 -0  1 0 0 0 -0  1 0 0 0 -0  0 0 0 0 1" result="n"/><feComposite in="ds" in2="n" operator="arithmetic" k1="1" k2="0.45" k3="0" k4="0" result="m"/><feFlood flood-color="#000" result="bk"/><feComposite in="m" in2="bk" operator="over" result="o"/><feGaussianBlur in="o" stdDeviation="0.7"/></filter>
<clipPath id="cmf11"><rect x="37.5" y="399" width="57" height="57.3"/></clipPath>
<g clip-path="url(#cmf11)"><g filter="url(#mf11)">
<radialGradient id="rg11_359174702"><stop offset="0" stop-color="#2f1ffa"/><stop offset="0.65" stop-color="#2b1ce6"/><stop offset="1" stop-color="#1c1296"/></radialGradient>
<ellipse cx="61.5" cy="401.5" rx="7" ry="5" fill="url(#rg11_359174702)"/>
<radialGradient id="rg11_500831200"><stop offset="0" stop-color="#2c1ded"/><stop offset="0.65" stop-color="#281bda"/><stop offset="1" stop-color="#1a118e"/></radialGradient>
<ellipse cx="76.5" cy="408.8" rx="7" ry="7" fill="url(#rg11_500831200)"/>
<radialGradient id="rg11_595477577"><stop offset="0" stop-color="#2f1ffa"/><stop offset="0.65" stop-color="#2b1ce6"/><stop offset="1" stop-color="#1c1296"/></radialGradient>
<ellipse cx="56.9" cy="440.6" rx="8" ry="6.4" fill="url(#rg11_595477577)"/>
<radialGradient id="rg11_1028574024"><stop offset="0" stop-color="#2d1ef2"/><stop offset="0.65" stop-color="#291bdf"/><stop offset="1" stop-color="#1b1291"/></radialGradient>
<ellipse cx="74.8" cy="447.5" rx="7.5" ry="5.5" fill="url(#rg11_1028574024)"/>
</g></g>
<rect x="72.7" y="403.4" width="1" height="1" fill="#e04070" opacity="0.6"/>
<rect x="79.0" y="407.2" width="1" height="1" fill="#e04070" opacity="0.6"/>
<rect x="73.3" y="404.3" width="1" height="1" fill="#e04070" opacity="0.6"/>
<rect x="69.6" y="408.7" width="1" height="1" fill="#e04070" opacity="0.6"/>
<rect x="71.9" y="408.0" width="1" height="1" fill="#e04070" opacity="0.6"/>
<rect x="80.4" y="446.0" width="1" height="1" fill="#c02050" opacity="0.6"/>
<rect x="73.5" y="450.4" width="1" height="1" fill="#c02050" opacity="0.6"/>
<filter id="mf12" filterUnits="userSpaceOnUse" x="96.6" y="399" width="56.9" height="57.3" color-interpolation-filters="sRGB"><feTurbulence type="fractalNoise" baseFrequency="0.1" numOctaves="2" seed="34" result="d"/><feDisplacementMap in="SourceGraphic" in2="d" scale="5" xChannelSelector="R" yChannelSelector="G" result="ds"/><feTurbulence type="fractalNoise" baseFrequency="0.3" numOctaves="2" seed="134" result="t"/><feColorMatrix in="t" type="matrix" values="1 0 0 0 -0  1 0 0 0 -0  1 0 0 0 -0  0 0 0 0 1" result="n"/><feComposite in="ds" in2="n" operator="arithmetic" k1="1" k2="0.45" k3="0" k4="0" result="m"/><feFlood flood-color="#000" result="bk"/><feComposite in="m" in2="bk" operator="over" result="o"/><feGaussianBlur in="o" stdDeviation="0.7"/></filter>
<clipPath id="cmf12"><rect x="96.6" y="399" width="56.9" height="57.3"/></clipPath>
<g clip-path="url(#cmf12)"><g filter="url(#mf12)">
<radialGradient id="rg12_766806502"><stop offset="0" stop-color="#2217b8"/><stop offset="0.65" stop-color="#1f15aa"/><stop offset="1" stop-color="#140d6e"/></radialGradient>
<ellipse cx="132" cy="420.4" rx="4.6" ry="9.3" fill="url(#rg12_766806502)"/>
<radialGradient id="rg12_59426139"><stop offset="0" stop-color="#2f1ffa"/><stop offset="0.65" stop-color="#2b1ce6"/><stop offset="1" stop-color="#1c1296"/></radialGradient>
<ellipse cx="129.2" cy="436.5" rx="6.3" ry="7" fill="url(#rg12_59426139)"/>
<radialGradient id="rg12_492444287"><stop offset="0" stop-color="#1d139e"/><stop offset="0.65" stop-color="#1b1291"/><stop offset="1" stop-color="#110b5f"/></radialGradient>
<ellipse cx="112.3" cy="437.5" rx="8.7" ry="8" fill="url(#rg12_492444287)"/>
</g></g>
<rect x="135.5" y="415.2" width="1" height="1" fill="#e04040" opacity="0.6"/>
<rect x="129.0" y="427.2" width="1" height="1" fill="#e04040" opacity="0.6"/>
<rect x="129.7" y="422.8" width="1" height="1" fill="#e04040" opacity="0.6"/>
<rect x="134.7" y="424.1" width="1" height="1" fill="#e04040" opacity="0.6"/>
<rect x="133.4" y="424.4" width="1" height="1" fill="#e04040" opacity="0.6"/>
<rect x="124.9" y="432.6" width="1" height="1" fill="#c850b8" opacity="0.6"/>
<rect x="129.2" y="434.4" width="1" height="1" fill="#c850b8" opacity="0.6"/>
<rect x="132.2" y="437.8" width="1" height="1" fill="#c850b8" opacity="0.6"/>
<rect x="123.7" y="434.4" width="1" height="1" fill="#c850b8" opacity="0.6"/>
<rect x="114.9" y="430.2" width="1" height="1" fill="#c850b8" opacity="0.6"/>
<rect x="106.4" y="434.1" width="1" height="1" fill="#c850b8" opacity="0.6"/>
<rect x="111.0" y="441.8" width="1" height="1" fill="#c850b8" opacity="0.6"/>
<rect x="114.0" y="443.1" width="1" height="1" fill="#c850b8" opacity="0.6"/>
<rect x="107.2" y="433.7" width="1" height="1" fill="#c850b8" opacity="0.6"/>
<rect x="107.9" y="440.8" width="1" height="1" fill="#c850b8" opacity="0.6"/>
<rect x="112.4" y="444.7" width="1" height="1" fill="#c850b8" opacity="0.6"/>
<rect x="105.7" y="434.1" width="1" height="1" fill="#c850b8" opacity="0.6"/>
<rect x="114.0" y="433.6" width="1" height="1" fill="#c850b8" opacity="0.6"/>
<rect x="115.7" y="440.4" width="1" height="1" fill="#c850b8" opacity="0.6"/>
<rect x="118.8" y="433.6" width="1" height="1" fill="#c850b8" opacity="0.6"/>
<rect x="105.9" y="441.4" width="1" height="1" fill="#c850b8" opacity="0.6"/>
<rect x="107.9" y="443.7" width="1" height="1" fill="#c850b8" opacity="0.6"/>
<rect x="118.6" y="441.2" width="1" height="1" fill="#c850b8" opacity="0.6"/>
<rect x="137" y="424" width="1" height="1" fill="#d03030" opacity="0.7"/>
<rect x="139" y="428" width="1" height="1" fill="#d03030" opacity="0.7"/>
<rect x="122" y="428" width="1" height="1" fill="#d03030" opacity="0.7"/>
<rect x="136" y="441" width="1" height="1" fill="#d03030" opacity="0.7"/>
<rect x="104" y="438" width="1" height="1" fill="#d03030" opacity="0.7"/>
<rect x="141" y="416" width="1" height="1" fill="#d03030" opacity="0.7"/>
<rect x="118" y="447" width="1" height="1" fill="#d03030" opacity="0.7"/>
<line x1="193.5" y1="200.8" x2="193.5" y2="317.8" stroke="#222" stroke-width="1.2"/>
<line x1="190.5" y1="317.8" x2="193.5" y2="317.8" stroke="#222" stroke-width="1.2"/>
<text x="189.3" y="321.1" font-size="8" text-anchor="end">0</text>
<line x1="190.5" y1="294.4" x2="193.5" y2="294.4" stroke="#222" stroke-width="1.2"/>
<text x="189.3" y="297.7" font-size="8" text-anchor="end">10</text>
<line x1="190.5" y1="271" x2="193.5" y2="271" stroke="#222" stroke-width="1.2"/>
<text x="189.3" y="274.3" font-size="8" text-anchor="end">20</text>
<line x1="190.5" y1="247.6" x2="193.5" y2="247.6" stroke="#222" stroke-width="1.2"/>
<text x="189.3" y="250.9" font-size="8" text-anchor="end">30</text>
<line x1="190.5" y1="224.2" x2="193.5" y2="224.2" stroke="#222" stroke-width="1.2"/>
<text x="189.3" y="227.5" font-size="8" text-anchor="end">40</text>
<line x1="190.5" y1="200.8" x2="193.5" y2="200.8" stroke="#222" stroke-width="1.2"/>
<text x="189.3" y="204.1" font-size="8" text-anchor="end">50</text>
<line x1="193.5" y1="317.8" x2="259.9" y2="317.8" stroke="#222" stroke-width="1.15"/>
<line x1="211.4" y1="266.32" x2="211.4" y2="284.338" stroke="#222" stroke-width="1.15"/>
<line x1="211.4" y1="305.632" x2="211.4" y2="314.758" stroke="#222" stroke-width="1.15"/>
<line x1="206.594" y1="266.32" x2="216.206" y2="266.32" stroke="#222" stroke-width="1.15"/>
<line x1="206.594" y1="314.758" x2="216.206" y2="314.758" stroke="#222" stroke-width="1.15"/>
<rect x="202.5" y="284.338" width="17.8" height="21.294" fill="#7f7f7f" stroke="#222" stroke-width="1.3"/>
<line x1="202.5" y1="296.74" x2="220.3" y2="296.74" stroke="#222" stroke-width="1.4"/>
<line x1="211.4" y1="317.8" x2="211.4" y2="320.5" stroke="#222" stroke-width="1.15"/>
<line x1="238.6" y1="219.52" x2="238.6" y2="257.428" stroke="#222" stroke-width="1.15"/>
<line x1="238.6" y1="293.932" x2="238.6" y2="306.1" stroke="#222" stroke-width="1.15"/>
<line x1="233.686" y1="219.52" x2="243.514" y2="219.52" stroke="#222" stroke-width="1.15"/>
<line x1="233.686" y1="306.1" x2="243.514" y2="306.1" stroke="#222" stroke-width="1.15"/>
<rect x="229.5" y="257.428" width="18.2" height="36.504" fill="#2f5f8a" stroke="#222" stroke-width="1.3"/>
<line x1="229.5" y1="275.68" x2="247.7" y2="275.68" stroke="#222" stroke-width="1.4"/>
<line x1="238.6" y1="317.8" x2="238.6" y2="320.5" stroke="#222" stroke-width="1.15"/>
<text x="166.5" y="268" font-size="7.85" text-anchor="middle" transform="rotate(-90 166.5 268)">Number of THOC4-XPO1</text>
<text x="175.3" y="268" font-size="7.85" text-anchor="middle" transform="rotate(-90 175.3 268)">PLA spot per cell</text>
<text x="209.2" y="327.2" font-size="7.8" text-anchor="middle">Vehicle</text>
<text x="241.7" y="327.2" font-size="7.8" text-anchor="middle">Etoposide</text>
<text x="224.5" y="212.4" font-size="8" text-anchor="middle"><tspan font-style="italic">P</tspan> &lt; 0.0001</text>
<line x1="298.5" y1="200.2" x2="298.5" y2="317.8" stroke="#222" stroke-width="1.2"/>
<line x1="295.5" y1="317.8" x2="298.5" y2="317.8" stroke="#222" stroke-width="1.2"/>
<text x="294.3" y="321.1" font-size="8" text-anchor="end">0</text>
<line x1="295.5" y1="288.4" x2="298.5" y2="288.4" stroke="#222" stroke-width="1.2"/>
<text x="294.3" y="291.7" font-size="8" text-anchor="end">10</text>
<line x1="295.5" y1="259" x2="298.5" y2="259" stroke="#222" stroke-width="1.2"/>
<text x="294.3" y="262.3" font-size="8" text-anchor="end">20</text>
<line x1="295.5" y1="229.6" x2="298.5" y2="229.6" stroke="#222" stroke-width="1.2"/>
<text x="294.3" y="232.9" font-size="8" text-anchor="end">30</text>
<line x1="295.5" y1="200.2" x2="298.5" y2="200.2" stroke="#222" stroke-width="1.2"/>
<text x="294.3" y="203.5" font-size="8" text-anchor="end">40</text>
<line x1="298.5" y1="317.8" x2="365.6" y2="317.8" stroke="#222" stroke-width="1.15"/>
<line x1="316.7" y1="273.7" x2="316.7" y2="291.928" stroke="#222" stroke-width="1.15"/>
<line x1="316.7" y1="305.452" x2="316.7" y2="314.86" stroke="#222" stroke-width="1.15"/>
<line x1="311.894" y1="273.7" x2="321.506" y2="273.7" stroke="#222" stroke-width="1.15"/>
<line x1="311.894" y1="314.86" x2="321.506" y2="314.86" stroke="#222" stroke-width="1.15"/>
<rect x="307.8" y="291.928" width="17.8" height="13.524" fill="#7f7f7f" stroke="#222" stroke-width="1.3"/>
<line x1="307.8" y1="300.16" x2="325.6" y2="300.16" stroke="#222" stroke-width="1.4"/>
<line x1="316.7" y1="317.8" x2="316.7" y2="320.5" stroke="#222" stroke-width="1.15"/>
<line x1="344.9" y1="226.66" x2="344.9" y2="267.82" stroke="#222" stroke-width="1.15"/>
<line x1="344.9" y1="297.22" x2="344.9" y2="311.92" stroke="#222" stroke-width="1.15"/>
<line x1="340.094" y1="226.66" x2="349.706" y2="226.66" stroke="#222" stroke-width="1.15"/>
<line x1="340.094" y1="311.92" x2="349.706" y2="311.92" stroke="#222" stroke-width="1.15"/>
<rect x="336" y="267.82" width="17.8" height="29.4" fill="#2f5f8a" stroke="#222" stroke-width="1.3"/>
<line x1="336" y1="282.52" x2="353.8" y2="282.52" stroke="#222" stroke-width="1.4"/>
<line x1="344.9" y1="317.8" x2="344.9" y2="320.5" stroke="#222" stroke-width="1.15"/>
<text x="272.2" y="260" font-size="7.85" text-anchor="middle" transform="rotate(-90 272.2 260)">Number of EIF4E-XPO1</text>
<text x="281.4" y="260" font-size="7.85" text-anchor="middle" transform="rotate(-90 281.4 260)">PLA spot per cell</text>
<text x="315.6" y="327.2" font-size="7.8" text-anchor="middle">Vehicle</text>
<text x="347.7" y="327.2" font-size="7.8" text-anchor="middle">Etoposide</text>
<text x="330.3" y="218" font-size="8" text-anchor="middle"><tspan font-style="italic">P</tspan> &lt; 0.0001</text>
<line x1="193.5" y1="339.9" x2="193.5" y2="455.9" stroke="#222" stroke-width="1.2"/>
<line x1="190.5" y1="455.9" x2="193.5" y2="455.9" stroke="#222" stroke-width="1.2"/>
<text x="189.3" y="459.2" font-size="8" text-anchor="end">0</text>
<line x1="190.5" y1="432.7" x2="193.5" y2="432.7" stroke="#222" stroke-width="1.2"/>
<text x="189.3" y="436" font-size="8" text-anchor="end">10</text>
<line x1="190.5" y1="409.5" x2="193.5" y2="409.5" stroke="#222" stroke-width="1.2"/>
<text x="189.3" y="412.8" font-size="8" text-anchor="end">20</text>
<line x1="190.5" y1="386.3" x2="193.5" y2="386.3" stroke="#222" stroke-width="1.2"/>
<text x="189.3" y="389.6" font-size="8" text-anchor="end">30</text>
<line x1="190.5" y1="363.1" x2="193.5" y2="363.1" stroke="#222" stroke-width="1.2"/>
<text x="189.3" y="366.4" font-size="8" text-anchor="end">40</text>
<line x1="190.5" y1="339.9" x2="193.5" y2="339.9" stroke="#222" stroke-width="1.2"/>
<text x="189.3" y="343.2" font-size="8" text-anchor="end">50</text>
<line x1="193.5" y1="455.9" x2="259.9" y2="455.9" stroke="#222" stroke-width="1.15"/>
<line x1="212.45" y1="402.54" x2="212.45" y2="423.42" stroke="#222" stroke-width="1.15"/>
<line x1="212.45" y1="441.516" x2="212.45" y2="448.94" stroke="#222" stroke-width="1.15"/>
<line x1="207.671" y1="402.54" x2="217.229" y2="402.54" stroke="#222" stroke-width="1.15"/>
<line x1="207.671" y1="448.94" x2="217.229" y2="448.94" stroke="#222" stroke-width="1.15"/>
<rect x="203.6" y="423.42" width="17.7" height="18.096" fill="#fff" stroke="#222" stroke-width="1.3"/>
<line x1="203.6" y1="435.02" x2="221.3" y2="435.02" stroke="#222" stroke-width="1.4"/>
<line x1="212.45" y1="455.9" x2="212.45" y2="458.6" stroke="#222" stroke-width="1.15"/>
<line x1="240.5" y1="358.46" x2="240.5" y2="393.26" stroke="#222" stroke-width="1.15"/>
<line x1="240.5" y1="422.956" x2="240.5" y2="441.98" stroke="#222" stroke-width="1.15"/>
<line x1="235.586" y1="358.46" x2="245.414" y2="358.46" stroke="#222" stroke-width="1.15"/>
<line x1="235.586" y1="441.98" x2="245.414" y2="441.98" stroke="#222" stroke-width="1.15"/>
<rect x="231.4" y="393.26" width="18.2" height="29.696" fill="#2a6650" stroke="#222" stroke-width="1.3"/>
<line x1="231.4" y1="411.82" x2="249.6" y2="411.82" stroke="#222" stroke-width="1.4"/>
<line x1="240.5" y1="455.9" x2="240.5" y2="458.6" stroke="#222" stroke-width="1.15"/>
<text x="166.5" y="396" font-size="7.85" text-anchor="middle" transform="rotate(-90 166.5 396)">Number of THOC4-XPO1</text>
<text x="175.3" y="396" font-size="7.85" text-anchor="middle" transform="rotate(-90 175.3 396)">PLA spot per cell</text>
<text x="210.7" y="467.7" font-size="7.8" text-anchor="middle">−MYC</text>
<text x="237.8" y="467.7" font-size="7.8" text-anchor="middle">+MYC</text>
<text x="226.7" y="349.3" font-size="8" text-anchor="middle"><tspan font-style="italic">P</tspan> &lt; 0.0001</text>
<line x1="298.2" y1="339.3" x2="298.2" y2="456.3" stroke="#222" stroke-width="1.2"/>
<line x1="295.2" y1="456.3" x2="298.2" y2="456.3" stroke="#222" stroke-width="1.2"/>
<text x="294" y="459.6" font-size="8" text-anchor="end">0</text>
<line x1="295.2" y1="432.9" x2="298.2" y2="432.9" stroke="#222" stroke-width="1.2"/>
<text x="294" y="436.2" font-size="8" text-anchor="end">10</text>
<line x1="295.2" y1="409.5" x2="298.2" y2="409.5" stroke="#222" stroke-width="1.2"/>
<text x="294" y="412.8" font-size="8" text-anchor="end">20</text>
<line x1="295.2" y1="386.1" x2="298.2" y2="386.1" stroke="#222" stroke-width="1.2"/>
<text x="294" y="389.4" font-size="8" text-anchor="end">30</text>
<line x1="295.2" y1="362.7" x2="298.2" y2="362.7" stroke="#222" stroke-width="1.2"/>
<text x="294" y="366" font-size="8" text-anchor="end">40</text>
<line x1="295.2" y1="339.3" x2="298.2" y2="339.3" stroke="#222" stroke-width="1.2"/>
<text x="294" y="342.6" font-size="8" text-anchor="end">50</text>
<line x1="298.2" y1="456.3" x2="365.6" y2="456.3" stroke="#222" stroke-width="1.15"/>
<line x1="317.4" y1="404.82" x2="317.4" y2="432.198" stroke="#222" stroke-width="1.15"/>
<line x1="317.4" y1="446.472" x2="317.4" y2="453.96" stroke="#222" stroke-width="1.15"/>
<line x1="312.432" y1="404.82" x2="322.368" y2="404.82" stroke="#222" stroke-width="1.15"/>
<line x1="312.432" y1="453.96" x2="322.368" y2="453.96" stroke="#222" stroke-width="1.15"/>
<rect x="308.2" y="432.198" width="18.4" height="14.274" fill="#fff" stroke="#222" stroke-width="1.3"/>
<line x1="308.2" y1="439.92" x2="326.6" y2="439.92" stroke="#222" stroke-width="1.4"/>
<line x1="317.4" y1="456.3" x2="317.4" y2="459" stroke="#222" stroke-width="1.15"/>
<line x1="345.8" y1="373.23" x2="345.8" y2="399.672" stroke="#222" stroke-width="1.15"/>
<line x1="345.8" y1="426.816" x2="345.8" y2="439.92" stroke="#222" stroke-width="1.15"/>
<line x1="340.886" y1="373.23" x2="350.714" y2="373.23" stroke="#222" stroke-width="1.15"/>
<line x1="340.886" y1="439.92" x2="350.714" y2="439.92" stroke="#222" stroke-width="1.15"/>
<rect x="336.7" y="399.672" width="18.2" height="27.144" fill="#2a6650" stroke="#222" stroke-width="1.3"/>
<line x1="336.7" y1="416.52" x2="354.9" y2="416.52" stroke="#222" stroke-width="1.4"/>
<line x1="345.8" y1="456.3" x2="345.8" y2="459" stroke="#222" stroke-width="1.15"/>
<text x="272.2" y="398" font-size="7.85" text-anchor="middle" transform="rotate(-90 272.2 398)">Number of EIF4E-XPO1</text>
<text x="281.4" y="398" font-size="7.85" text-anchor="middle" transform="rotate(-90 281.4 398)">PLA spot per cell</text>
<text x="316.1" y="467.2" font-size="7.8" text-anchor="middle">−MYC</text>
<text x="344.8" y="467.2" font-size="7.8" text-anchor="middle">+MYC</text>
<text x="330.3" y="365.1" font-size="8" text-anchor="middle"><tspan font-style="italic">P</tspan> &lt; 0.0001</text>
<text x="439.2" y="200.4" font-size="8" text-anchor="middle">−MYC</text>
<line x1="441.6" y1="202.8" x2="441.6" y2="214.5" stroke="#111" stroke-width="1.4"/>
<path d="M439.8 213 L441.6 217.2 L443.4 213 Z" fill="#111"/>
<text x="440.2" y="226.3" font-size="8" text-anchor="middle">+MYC</text>
<line x1="433" y1="229.5" x2="425.4" y2="241.8" stroke="#111" stroke-width="1.4"/>
<line x1="450.8" y1="229.5" x2="458.2" y2="241.8" stroke="#111" stroke-width="1.4"/>
<text x="414.2" y="253.2" font-size="8.7" text-anchor="middle">Vehicle</text>
<text x="472.9" y="253.2" font-size="8.7" text-anchor="middle">Selinexor</text>
<filter id="mf13" filterUnits="userSpaceOnUse" x="385.2" y="254.6" width="57" height="55.9" color-interpolation-filters="sRGB"><feTurbulence type="fractalNoise" baseFrequency="0.1" numOctaves="2" seed="41" result="d"/><feDisplacementMap in="SourceGraphic" in2="d" scale="4" xChannelSelector="R" yChannelSelector="G" result="ds"/><feTurbulence type="fractalNoise" baseFrequency="0.4" numOctaves="2" seed="141" result="t"/><feColorMatrix in="t" type="matrix" values="1.7 0 0 0 -0.35  1.7 0 0 0 -0.35  1.7 0 0 0 -0.35  0 0 0 0 1" result="n"/><feComposite in="ds" in2="n" operator="arithmetic" k1="1" k2="0.45" k3="0" k4="0" result="m"/><feFlood flood-color="#000" result="bk"/><feComposite in="m" in2="bk" operator="over" result="o"/><feGaussianBlur in="o" stdDeviation="0.7"/><feComponentTransfer><feFuncR type="table" tableValues="0 0.333 0.667 1 1 1 1 1 1"/><feFuncG type="table" tableValues="0 0 0 0.05 0.36 0.68 1 1 1"/><feFuncB type="table" tableValues="0 0 0 0 0 0 0.05 0.5 1"/></feComponentTransfer></filter>
<clipPath id="cmf13"><rect x="385.2" y="254.6" width="57" height="55.9"/></clipPath>
<g clip-path="url(#cmf13)"><g filter="url(#mf13)">
<radialGradient id="rg13_818235696"><stop offset="0" stop-color="#404040"/><stop offset="0.75" stop-color="#2d2d2d"/><stop offset="1" stop-color="#212121"/></radialGradient>
<ellipse cx="413.2" cy="277" rx="7.7" ry="7.5" fill="url(#rg13_818235696)"/>
<radialGradient id="rg13_713447292"><stop offset="0" stop-color="#383838"/><stop offset="0.75" stop-color="#2b2b2b"/><stop offset="1" stop-color="#202020"/></radialGradient>
<ellipse cx="432.7" cy="280.8" rx="6.6" ry="7.7" fill="url(#rg13_713447292)"/>
<radialGradient id="rg13_495465664"><stop offset="0" stop-color="#3a3a3a"/><stop offset="0.75" stop-color="#2a2a2a"/><stop offset="1" stop-color="#1f1f1f"/></radialGradient>
<ellipse cx="411.6" cy="303.3" rx="7.5" ry="6" fill="url(#rg13_495465664)"/>
<radialGradient id="rg13_356561138"><stop offset="0" stop-color="#585858"/><stop offset="0.75" stop-color="#3c3c3c"/><stop offset="1" stop-color="#191919"/></radialGradient>
<ellipse cx="397.8" cy="264.3" rx="5.2" ry="4.6" fill="url(#rg13_356561138)"/>
<radialGradient id="rg13_828133548"><stop offset="0" stop-color="#1b1b1b"/><stop offset="0.75" stop-color="#191919"/><stop offset="1" stop-color="#0a0a0a"/></radialGradient>
<ellipse cx="390" cy="282" rx="3.5" ry="6" fill="url(#rg13_828133548)"/>
<radialGradient id="rg13_608720880"><stop offset="0" stop-color="#242424"/><stop offset="0.75" stop-color="#212121"/><stop offset="1" stop-color="#0e0e0e"/></radialGradient>
<ellipse cx="388.7" cy="302" rx="3.5" ry="5" fill="url(#rg13_608720880)"/>
<radialGradient id="rg13_594393859"><stop offset="0" stop-color="#171717"/><stop offset="0.75" stop-color="#161616"/><stop offset="1" stop-color="#090909"/></radialGradient>
<ellipse cx="437" cy="297" rx="6" ry="6" fill="url(#rg13_594393859)"/>
</g></g>
<ellipse cx="413.2" cy="277" rx="8.9" ry="8.7" fill="none" stroke="#e4e2dc" stroke-width="1.15" stroke-dasharray="2.5 1.4"/>
<ellipse cx="432.7" cy="280.8" rx="7.8" ry="8.9" fill="none" stroke="#e4e2dc" stroke-width="1.15" stroke-dasharray="2.5 1.4"/>
<ellipse cx="411.6" cy="303.3" rx="8.7" ry="7.2" fill="none" stroke="#e4e2dc" stroke-width="1.15" stroke-dasharray="2.5 1.4"/>
<rect x="386.9" y="308.7" width="6.3" height="1.3" fill="#fff" stroke="none" stroke-width="1"/>
<text x="386.6" y="260.7" font-size="8.2" fill="#fff" style="stroke:#fff;stroke-width:0.15px">P493-6</text>
<filter id="mf14" filterUnits="userSpaceOnUse" x="445.2" y="254.6" width="57" height="55.9" color-interpolation-filters="sRGB"><feTurbulence type="fractalNoise" baseFrequency="0.1" numOctaves="2" seed="42" result="d"/><feDisplacementMap in="SourceGraphic" in2="d" scale="4" xChannelSelector="R" yChannelSelector="G" result="ds"/><feTurbulence type="fractalNoise" baseFrequency="0.4" numOctaves="2" seed="142" result="t"/><feColorMatrix in="t" type="matrix" values="1.7 0 0 0 -0.35  1.7 0 0 0 -0.35  1.7 0 0 0 -0.35  0 0 0 0 1" result="n"/><feComposite in="ds" in2="n" operator="arithmetic" k1="1" k2="0.45" k3="0" k4="0" result="m"/><feFlood flood-color="#000" result="bk"/><feComposite in="m" in2="bk" operator="over" result="o"/><feGaussianBlur in="o" stdDeviation="0.7"/><feComponentTransfer><feFuncR type="table" tableValues="0 0.333 0.667 1 1 1 1 1 1"/><feFuncG type="table" tableValues="0 0 0 0.05 0.36 0.68 1 1 1"/><feFuncB type="table" tableValues="0 0 0 0 0 0 0.05 0.5 1"/></feComponentTransfer></filter>
<clipPath id="cmf14"><rect x="445.2" y="254.6" width="57" height="55.9"/></clipPath>
<g clip-path="url(#cmf14)"><g filter="url(#mf14)">
<radialGradient id="rg14_239081663"><stop offset="0" stop-color="#474747"/><stop offset="0.75" stop-color="#303030"/><stop offset="1" stop-color="#242424"/></radialGradient>
<ellipse cx="456.7" cy="261.5" rx="7.5" ry="6.5" fill="url(#rg14_239081663)"/>
<radialGradient id="rg14_53710184"><stop offset="0" stop-color="#434343"/><stop offset="0.75" stop-color="#303030"/><stop offset="1" stop-color="#242424"/></radialGradient>
<ellipse cx="482.1" cy="262.7" rx="6.4" ry="6" fill="url(#rg14_53710184)"/>
<radialGradient id="rg14_590620971"><stop offset="0" stop-color="#3c3c3c"/><stop offset="0.75" stop-color="#2d2d2d"/><stop offset="1" stop-color="#212121"/></radialGradient>
<ellipse cx="465.6" cy="272.5" rx="6.6" ry="6.4" fill="url(#rg14_590620971)"/>
<radialGradient id="rg14_525901256"><stop offset="0" stop-color="#3c3c3c"/><stop offset="0.75" stop-color="#2d2d2d"/><stop offset="1" stop-color="#212121"/></radialGradient>
<ellipse cx="477.5" cy="278.8" rx="6.4" ry="6.4" fill="url(#rg14_525901256)"/>
<radialGradient id="rg14_479341423"><stop offset="0" stop-color="#585858"/><stop offset="0.75" stop-color="#373737"/><stop offset="1" stop-color="#292929"/></radialGradient>
<ellipse cx="457.9" cy="288" rx="7.5" ry="8" fill="url(#rg14_479341423)"/>
<radialGradient id="rg14_299655412"><stop offset="0" stop-color="#212121"/><stop offset="0.72" stop-color="#252525"/><stop offset="0.9" stop-color="#3a3a3a"/><stop offset="1" stop-color="#2e2e2e"/></radialGradient>
<ellipse cx="475.1" cy="301" rx="8.5" ry="8.3" fill="url(#rg14_299655412)"/>
<radialGradient id="rg14_220106707"><stop offset="0" stop-color="#2a2a2a"/><stop offset="0.75" stop-color="#212121"/><stop offset="1" stop-color="#0e0e0e"/></radialGradient>
<ellipse cx="498" cy="277" rx="7" ry="9" fill="url(#rg14_220106707)"/>
<radialGradient id="rg14_186699713"><stop offset="0" stop-color="#7f7f7f"/><stop offset="0.75" stop-color="#575757"/><stop offset="1" stop-color="#242424"/></radialGradient>
<ellipse cx="448" cy="307" rx="5" ry="4.5" fill="url(#rg14_186699713)"/>
<radialGradient id="rg14_906070220"><stop offset="0" stop-color="#313131"/><stop offset="0.75" stop-color="#2d2d2d"/><stop offset="1" stop-color="#131313"/></radialGradient>
<ellipse cx="492.5" cy="309" rx="6" ry="4" fill="url(#rg14_906070220)"/>
</g></g>
<ellipse cx="456.7" cy="261.5" rx="8.7" ry="7.7" fill="none" stroke="#e4e2dc" stroke-width="1.15" stroke-dasharray="2.5 1.4"/>
<ellipse cx="482.1" cy="262.7" rx="7.6" ry="7.2" fill="none" stroke="#e4e2dc" stroke-width="1.15" stroke-dasharray="2.5 1.4"/>
<ellipse cx="465.6" cy="272.5" rx="7.8" ry="7.6" fill="none" stroke="#e4e2dc" stroke-width="1.15" stroke-dasharray="2.5 1.4"/>
<ellipse cx="477.5" cy="278.8" rx="7.6" ry="7.6" fill="none" stroke="#e4e2dc" stroke-width="1.15" stroke-dasharray="2.5 1.4"/>
<ellipse cx="457.9" cy="288" rx="8.7" ry="9.2" fill="none" stroke="#e4e2dc" stroke-width="1.15" stroke-dasharray="2.5 1.4"/>
<ellipse cx="475.1" cy="301" rx="9.7" ry="9.5" fill="none" stroke="#e4e2dc" stroke-width="1.15" stroke-dasharray="2.5 1.4"/>
<linearGradient id="cbv" x1="0" x2="0" y1="0" y2="1"><stop offset="0" stop-color="#ffffff"/><stop offset="0.12" stop-color="#fffbb8"/><stop offset="0.3" stop-color="#ffe400"/><stop offset="0.45" stop-color="#ff8c00"/><stop offset="0.6" stop-color="#ec1c00"/><stop offset="0.8" stop-color="#7a0000"/><stop offset="1" stop-color="#000"/></linearGradient>
<rect x="504.4" y="257.3" width="5.6" height="50.6" fill="url(#cbv)" stroke="#999" stroke-width="0.4"/>
<text x="511" y="259.3" font-size="5">255</text>
<text x="511" y="272.5" font-size="5">191</text>
<text x="511" y="284.9" font-size="5">128</text>
<text x="511" y="297.6" font-size="5">64</text>
<text x="511" y="310.2" font-size="5">0</text>
<line x1="423.2" y1="331.8" x2="423.2" y2="456.6" stroke="#222" stroke-width="1.2"/>
<line x1="420.2" y1="456.6" x2="423.2" y2="456.6" stroke="#222" stroke-width="1.2"/>
<text x="419" y="459.9" font-size="8" text-anchor="end">0</text>
<line x1="420.2" y1="415" x2="423.2" y2="415" stroke="#222" stroke-width="1.2"/>
<text x="419" y="418.3" font-size="8" text-anchor="end">10</text>
<line x1="420.2" y1="373.4" x2="423.2" y2="373.4" stroke="#222" stroke-width="1.2"/>
<text x="419" y="376.7" font-size="8" text-anchor="end">20</text>
<line x1="420.2" y1="331.8" x2="423.2" y2="331.8" stroke="#222" stroke-width="1.2"/>
<text x="419" y="335.1" font-size="8" text-anchor="end">30</text>
<line x1="423.2" y1="456.6" x2="488.3" y2="456.6" stroke="#222" stroke-width="1.15"/>
<line x1="442" y1="397.112" x2="442" y2="419.16" stroke="#222" stroke-width="1.15"/>
<line x1="442" y1="439.544" x2="442" y2="450.36" stroke="#222" stroke-width="1.15"/>
<line x1="437.086" y1="397.112" x2="446.914" y2="397.112" stroke="#222" stroke-width="1.15"/>
<line x1="437.086" y1="450.36" x2="446.914" y2="450.36" stroke="#222" stroke-width="1.15"/>
<rect x="432.9" y="419.16" width="18.2" height="20.384" fill="#fff" stroke="#222" stroke-width="1.3"/>
<line x1="432.9" y1="434.136" x2="451.1" y2="434.136" stroke="#222" stroke-width="1.4"/>
<line x1="442" y1="456.6" x2="442" y2="459.3" stroke="#222" stroke-width="1.15"/>
<line x1="469.4" y1="360.504" x2="469.4" y2="406.68" stroke="#222" stroke-width="1.15"/>
<line x1="469.4" y1="438.712" x2="469.4" y2="450.36" stroke="#222" stroke-width="1.15"/>
<line x1="464.486" y1="360.504" x2="474.314" y2="360.504" stroke="#222" stroke-width="1.15"/>
<line x1="464.486" y1="450.36" x2="474.314" y2="450.36" stroke="#222" stroke-width="1.15"/>
<rect x="460.3" y="406.68" width="18.2" height="32.032" fill="#2a6650" stroke="#222" stroke-width="1.3"/>
<line x1="460.3" y1="424.984" x2="478.5" y2="424.984" stroke="#222" stroke-width="1.4"/>
<line x1="469.4" y1="456.6" x2="469.4" y2="459.3" stroke="#222" stroke-width="1.15"/>
<text x="406.8" y="400" font-size="7.85" text-anchor="middle" transform="rotate(-90 406.8 400)">THOC4 average nuclear MFI</text>
<text x="440.2" y="466.8" font-size="7.8" text-anchor="middle">Vehicle</text>
<text x="472.3" y="466.8" font-size="7.8" text-anchor="middle">Selinexor</text>
<text x="454.9" y="351.7" font-size="8" text-anchor="middle"><tspan font-style="italic">P</tspan> &lt; 0.0001</text>
<rect x="37.35" y="580.21" width="9.3" height="47.19" fill="#fff" stroke="#46668a" stroke-width="1.4"/>
<rect x="52.95" y="538.525" width="9.3" height="88.8745" fill="#fff" stroke="#46668a" stroke-width="1.4"/>
<rect x="68.55" y="605.693" width="9.3" height="21.7074" fill="#fff" stroke="#46668a" stroke-width="1.4"/>
<rect x="84.15" y="617.962" width="9.3" height="9.438" fill="#fff" stroke="#46668a" stroke-width="1.4"/>
<rect x="99.75" y="599.401" width="9.3" height="27.9994" fill="#fff" stroke="#46668a" stroke-width="1.4"/>
<rect x="115.35" y="617.962" width="9.3" height="9.438" fill="#fff" stroke="#46668a" stroke-width="1.4"/>
<line x1="42" y1="579.109" x2="42" y2="581.311" stroke="#46668a" stroke-width="1.1"/>
<line x1="39.21" y1="579.109" x2="44.79" y2="579.109" stroke="#46668a" stroke-width="1.1"/>
<line x1="39.21" y1="581.311" x2="44.79" y2="581.311" stroke="#46668a" stroke-width="1.1"/>
<line x1="57.6" y1="530.66" x2="57.6" y2="546.39" stroke="#46668a" stroke-width="1.1"/>
<line x1="54.81" y1="530.66" x2="60.39" y2="530.66" stroke="#46668a" stroke-width="1.1"/>
<line x1="54.81" y1="546.39" x2="60.39" y2="546.39" stroke="#46668a" stroke-width="1.1"/>
<line x1="73.2" y1="603.49" x2="73.2" y2="607.737" stroke="#46668a" stroke-width="1.1"/>
<line x1="70.41" y1="603.49" x2="75.99" y2="603.49" stroke="#46668a" stroke-width="1.1"/>
<line x1="70.41" y1="607.737" x2="75.99" y2="607.737" stroke="#46668a" stroke-width="1.1"/>
<line x1="88.8" y1="612.457" x2="88.8" y2="623.467" stroke="#46668a" stroke-width="1.1"/>
<line x1="86.01" y1="612.457" x2="91.59" y2="612.457" stroke="#46668a" stroke-width="1.1"/>
<line x1="86.01" y1="623.467" x2="91.59" y2="623.467" stroke="#46668a" stroke-width="1.1"/>
<line x1="104.4" y1="594.367" x2="104.4" y2="603.805" stroke="#46668a" stroke-width="1.1"/>
<line x1="101.61" y1="594.367" x2="107.19" y2="594.367" stroke="#46668a" stroke-width="1.1"/>
<line x1="101.61" y1="603.805" x2="107.19" y2="603.805" stroke="#46668a" stroke-width="1.1"/>
<line x1="120" y1="614.029" x2="120" y2="621.894" stroke="#46668a" stroke-width="1.1"/>
<line x1="117.21" y1="614.029" x2="122.79" y2="614.029" stroke="#46668a" stroke-width="1.1"/>
<line x1="117.21" y1="621.894" x2="122.79" y2="621.894" stroke="#46668a" stroke-width="1.1"/>
<line x1="31.9" y1="611.67" x2="129.6" y2="611.67" stroke="#46668a" stroke-width="0.9" stroke-dasharray="1 1.1"/>
<line x1="31.9" y1="501.5" x2="31.9" y2="627.4" stroke="#222" stroke-width="1.2"/>
<line x1="29.3" y1="627.4" x2="31.9" y2="627.4" stroke="#222" stroke-width="1.2"/>
<text x="27.9" y="630.4" font-size="8" text-anchor="end">0</text>
<line x1="29.3" y1="595.94" x2="31.9" y2="595.94" stroke="#222" stroke-width="1.2"/>
<text x="27.9" y="598.94" font-size="8" text-anchor="end">2</text>
<line x1="29.3" y1="564.48" x2="31.9" y2="564.48" stroke="#222" stroke-width="1.2"/>
<text x="27.9" y="567.48" font-size="8" text-anchor="end">4</text>
<line x1="29.3" y1="533.02" x2="31.9" y2="533.02" stroke="#222" stroke-width="1.2"/>
<text x="27.9" y="536.02" font-size="8" text-anchor="end">6</text>
<line x1="29.3" y1="501.56" x2="31.9" y2="501.56" stroke="#222" stroke-width="1.2"/>
<text x="27.9" y="504.56" font-size="8" text-anchor="end">8</text>
<line x1="31.9" y1="627.4" x2="129.6" y2="627.4" stroke="#222" stroke-width="1.15"/>
<line x1="42" y1="627.4" x2="42" y2="630.2" stroke="#222" stroke-width="1.15"/>
<line x1="57.6" y1="627.4" x2="57.6" y2="630.2" stroke="#222" stroke-width="1.15"/>
<line x1="73.2" y1="627.4" x2="73.2" y2="630.2" stroke="#222" stroke-width="1.15"/>
<line x1="88.8" y1="627.4" x2="88.8" y2="630.2" stroke="#222" stroke-width="1.15"/>
<line x1="104.4" y1="627.4" x2="104.4" y2="630.2" stroke="#222" stroke-width="1.15"/>
<line x1="120" y1="627.4" x2="120" y2="630.2" stroke="#222" stroke-width="1.15"/>
<text x="45.6" y="634.2" font-size="8.3" text-anchor="end" transform="rotate(-45 45.6 634.2)">CHEK1</text>
<text x="61.2" y="634.2" font-size="8.3" text-anchor="end" transform="rotate(-45 61.2 634.2)">RAD51</text>
<text x="76.8" y="634.2" font-size="8.3" text-anchor="end" transform="rotate(-45 76.8 634.2)">WEE1</text>
<text x="92.4" y="634.2" font-size="8.3" text-anchor="end" transform="rotate(-45 92.4 634.2)">RPA1</text>
<text x="108" y="634.2" font-size="8.3" text-anchor="end" transform="rotate(-45 108 634.2)">KU70</text>
<text x="123.6" y="634.2" font-size="8.3" text-anchor="end" transform="rotate(-45 123.6 634.2)">BACT</text>
<text x="42" y="577.3" font-size="8.6" text-anchor="middle" font-weight="bold">**</text>
<text x="57.6" y="529.3" font-size="8.6" text-anchor="middle" font-weight="bold">***</text>
<text x="104.4" y="593.3" font-size="8.6" text-anchor="middle" font-weight="bold">*</text>
<text x="8.7" y="566.9" font-size="8" text-anchor="middle" transform="rotate(-90 8.7 566.9)">Transcrips bound by THOC4</text>
<text x="18.3" y="566" font-size="7.7" text-anchor="middle" transform="rotate(-90 18.3 566)">(fold enrichment THOC4 RIP vs. Input)</text>
<rect x="166.85" y="564" width="8.7" height="62.4" fill="#fff" stroke="#c05862" stroke-width="1.4"/>
<rect x="182.35" y="617.664" width="8.7" height="8.736" fill="#fff" stroke="#c05862" stroke-width="1.4"/>
<rect x="197.85" y="539.04" width="8.7" height="87.36" fill="#fff" stroke="#c05862" stroke-width="1.4"/>
<rect x="213.35" y="613.92" width="8.7" height="12.48" fill="#fff" stroke="#c05862" stroke-width="1.4"/>
<rect x="228.85" y="613.92" width="8.7" height="12.48" fill="#fff" stroke="#c05862" stroke-width="1.4"/>
<rect x="244.35" y="612.048" width="8.7" height="14.352" fill="#fff" stroke="#c05862" stroke-width="1.4"/>
<line x1="171.2" y1="557.76" x2="171.2" y2="570.24" stroke="#c05862" stroke-width="1.1"/>
<line x1="168.59" y1="557.76" x2="173.81" y2="557.76" stroke="#c05862" stroke-width="1.1"/>
<line x1="168.59" y1="570.24" x2="173.81" y2="570.24" stroke="#c05862" stroke-width="1.1"/>
<line x1="186.7" y1="616.104" x2="186.7" y2="618.912" stroke="#c05862" stroke-width="1.1"/>
<line x1="184.09" y1="616.104" x2="189.31" y2="616.104" stroke="#c05862" stroke-width="1.1"/>
<line x1="184.09" y1="618.912" x2="189.31" y2="618.912" stroke="#c05862" stroke-width="1.1"/>
<line x1="202.2" y1="531.24" x2="202.2" y2="545.28" stroke="#c05862" stroke-width="1.1"/>
<line x1="199.59" y1="531.24" x2="204.81" y2="531.24" stroke="#c05862" stroke-width="1.1"/>
<line x1="199.59" y1="545.28" x2="204.81" y2="545.28" stroke="#c05862" stroke-width="1.1"/>
<line x1="217.7" y1="612.984" x2="217.7" y2="614.856" stroke="#c05862" stroke-width="1.1"/>
<line x1="215.09" y1="612.984" x2="220.31" y2="612.984" stroke="#c05862" stroke-width="1.1"/>
<line x1="215.09" y1="614.856" x2="220.31" y2="614.856" stroke="#c05862" stroke-width="1.1"/>
<line x1="233.2" y1="610.176" x2="233.2" y2="617.04" stroke="#c05862" stroke-width="1.1"/>
<line x1="230.59" y1="610.176" x2="235.81" y2="610.176" stroke="#c05862" stroke-width="1.1"/>
<line x1="230.59" y1="617.04" x2="235.81" y2="617.04" stroke="#c05862" stroke-width="1.1"/>
<line x1="248.7" y1="610.8" x2="248.7" y2="612.984" stroke="#c05862" stroke-width="1.1"/>
<line x1="246.09" y1="610.8" x2="251.31" y2="610.8" stroke="#c05862" stroke-width="1.1"/>
<line x1="246.09" y1="612.984" x2="251.31" y2="612.984" stroke="#c05862" stroke-width="1.1"/>
<line x1="161" y1="595.2" x2="260" y2="595.2" stroke="#c05862" stroke-width="0.9" stroke-dasharray="1 1.1"/>
<line x1="161" y1="501.6" x2="161" y2="626.4" stroke="#222" stroke-width="1.2"/>
<line x1="159.6" y1="626.4" x2="161" y2="626.4" stroke="#222" stroke-width="1.2"/>
<text x="158.3" y="629.4" font-size="8" text-anchor="end">0</text>
<line x1="159.6" y1="595.2" x2="161" y2="595.2" stroke="#222" stroke-width="1.2"/>
<text x="158.3" y="598.2" font-size="8" text-anchor="end">1</text>
<line x1="159.6" y1="564" x2="161" y2="564" stroke="#222" stroke-width="1.2"/>
<text x="158.3" y="567" font-size="8" text-anchor="end">2</text>
<line x1="159.6" y1="532.8" x2="161" y2="532.8" stroke="#222" stroke-width="1.2"/>
<text x="158.3" y="535.8" font-size="8" text-anchor="end">3</text>
<line x1="159.6" y1="501.6" x2="161" y2="501.6" stroke="#222" stroke-width="1.2"/>
<text x="158.3" y="504.6" font-size="8" text-anchor="end">4</text>
<line x1="161" y1="626.4" x2="259" y2="626.4" stroke="#222" stroke-width="1.15"/>
<line x1="171.2" y1="626.4" x2="171.2" y2="629.2" stroke="#222" stroke-width="1.15"/>
<line x1="186.7" y1="626.4" x2="186.7" y2="629.2" stroke="#222" stroke-width="1.15"/>
<line x1="202.2" y1="626.4" x2="202.2" y2="629.2" stroke="#222" stroke-width="1.15"/>
<line x1="217.7" y1="626.4" x2="217.7" y2="629.2" stroke="#222" stroke-width="1.15"/>
<line x1="233.2" y1="626.4" x2="233.2" y2="629.2" stroke="#222" stroke-width="1.15"/>
<line x1="248.7" y1="626.4" x2="248.7" y2="629.2" stroke="#222" stroke-width="1.15"/>
<text x="174.8" y="633.2" font-size="8.3" text-anchor="end" transform="rotate(-45 174.8 633.2)">CHEK1</text>
<text x="190.3" y="633.2" font-size="8.3" text-anchor="end" transform="rotate(-45 190.3 633.2)">RAD51</text>
<text x="205.8" y="633.2" font-size="8.3" text-anchor="end" transform="rotate(-45 205.8 633.2)">WEE1</text>
<text x="221.3" y="633.2" font-size="8.3" text-anchor="end" transform="rotate(-45 221.3 633.2)">RPA1</text>
<text x="236.8" y="633.2" font-size="8.3" text-anchor="end" transform="rotate(-45 236.8 633.2)">KU70</text>
<text x="252.3" y="633.2" font-size="8.3" text-anchor="end" transform="rotate(-45 252.3 633.2)">BACT</text>
<text x="171.2" y="555.3" font-size="8.6" text-anchor="middle" font-weight="bold">**</text>
<text x="202.2" y="530.3" font-size="8.6" text-anchor="middle" font-weight="bold">***</text>
<text x="140.9" y="561.5" font-size="7.8" text-anchor="middle" transform="rotate(-90 140.9 561.5)">Transcripts bound by EIF4E</text>
<text x="149.9" y="561.3" font-size="7.75" text-anchor="middle" transform="rotate(-90 149.9 561.3)">(fold enrichment EIF4E RIP vs. Input)</text>
<rect x="295.8" y="578.357" width="9.5" height="46.2426" fill="#fff" stroke="#46668a" stroke-width="1.4"/>
<rect x="311.2" y="600.021" width="9.5" height="24.5794" fill="#fff" stroke="#46668a" stroke-width="1.4"/>
<rect x="326.6" y="528.782" width="9.5" height="95.818" fill="#fff" stroke="#46668a" stroke-width="1.4"/>
<rect x="342" y="575.649" width="9.5" height="48.9505" fill="#fff" stroke="#46668a" stroke-width="1.4"/>
<rect x="357.4" y="564.61" width="9.5" height="59.9904" fill="#fff" stroke="#46668a" stroke-width="1.4"/>
<rect x="372.8" y="602.104" width="9.5" height="22.4964" fill="#fff" stroke="#46668a" stroke-width="1.4"/>
<line x1="300.55" y1="574.191" x2="300.55" y2="581.482" stroke="#46668a" stroke-width="1.1"/>
<line x1="297.7" y1="574.191" x2="303.4" y2="574.191" stroke="#46668a" stroke-width="1.1"/>
<line x1="297.7" y1="581.482" x2="303.4" y2="581.482" stroke="#46668a" stroke-width="1.1"/>
<line x1="315.95" y1="595.438" x2="315.95" y2="603.77" stroke="#46668a" stroke-width="1.1"/>
<line x1="313.1" y1="595.438" x2="318.8" y2="595.438" stroke="#46668a" stroke-width="1.1"/>
<line x1="313.1" y1="603.77" x2="318.8" y2="603.77" stroke="#46668a" stroke-width="1.1"/>
<line x1="331.35" y1="514.201" x2="331.35" y2="542.322" stroke="#46668a" stroke-width="1.1"/>
<line x1="328.5" y1="514.201" x2="334.2" y2="514.201" stroke="#46668a" stroke-width="1.1"/>
<line x1="328.5" y1="542.322" x2="334.2" y2="542.322" stroke="#46668a" stroke-width="1.1"/>
<line x1="346.75" y1="572.525" x2="346.75" y2="578.357" stroke="#46668a" stroke-width="1.1"/>
<line x1="343.9" y1="572.525" x2="349.6" y2="572.525" stroke="#46668a" stroke-width="1.1"/>
<line x1="343.9" y1="578.357" x2="349.6" y2="578.357" stroke="#46668a" stroke-width="1.1"/>
<line x1="362.15" y1="551.695" x2="362.15" y2="576.691" stroke="#46668a" stroke-width="1.1"/>
<line x1="359.3" y1="551.695" x2="365" y2="551.695" stroke="#46668a" stroke-width="1.1"/>
<line x1="359.3" y1="576.691" x2="365" y2="576.691" stroke="#46668a" stroke-width="1.1"/>
<line x1="377.55" y1="594.397" x2="377.55" y2="608.353" stroke="#46668a" stroke-width="1.1"/>
<line x1="374.7" y1="594.397" x2="380.4" y2="594.397" stroke="#46668a" stroke-width="1.1"/>
<line x1="374.7" y1="608.353" x2="380.4" y2="608.353" stroke="#46668a" stroke-width="1.1"/>
<line x1="290.5" y1="603.77" x2="389" y2="603.77" stroke="#46668a" stroke-width="0.9" stroke-dasharray="1 1.1"/>
<line x1="290.5" y1="499.6" x2="290.5" y2="624.6" stroke="#222" stroke-width="1.2"/>
<line x1="287.9" y1="624.6" x2="290.5" y2="624.6" stroke="#222" stroke-width="1.2"/>
<text x="286.5" y="628.2" font-size="8" text-anchor="end">0</text>
<line x1="287.9" y1="582.94" x2="290.5" y2="582.94" stroke="#222" stroke-width="1.2"/>
<text x="286.5" y="586.54" font-size="8" text-anchor="end">2</text>
<line x1="287.9" y1="541.28" x2="290.5" y2="541.28" stroke="#222" stroke-width="1.2"/>
<text x="286.5" y="544.88" font-size="8" text-anchor="end">4</text>
<line x1="287.9" y1="499.62" x2="290.5" y2="499.62" stroke="#222" stroke-width="1.2"/>
<text x="286.5" y="503.22" font-size="8" text-anchor="end">6</text>
<line x1="290.5" y1="624.6" x2="388" y2="624.6" stroke="#222" stroke-width="1.15"/>
<line x1="300.55" y1="624.6" x2="300.55" y2="627.4" stroke="#222" stroke-width="1.15"/>
<line x1="315.95" y1="624.6" x2="315.95" y2="627.4" stroke="#222" stroke-width="1.15"/>
<line x1="331.35" y1="624.6" x2="331.35" y2="627.4" stroke="#222" stroke-width="1.15"/>
<line x1="346.75" y1="624.6" x2="346.75" y2="627.4" stroke="#222" stroke-width="1.15"/>
<line x1="362.15" y1="624.6" x2="362.15" y2="627.4" stroke="#222" stroke-width="1.15"/>
<line x1="377.55" y1="624.6" x2="377.55" y2="627.4" stroke="#222" stroke-width="1.15"/>
<text x="304.15" y="632.2" font-size="8.3" text-anchor="end" transform="rotate(-45 304.15 632.2)">CHEK1</text>
<text x="319.55" y="632.2" font-size="8.3" text-anchor="end" transform="rotate(-45 319.55 632.2)">RAD51</text>
<text x="334.95" y="632.2" font-size="8.3" text-anchor="end" transform="rotate(-45 334.95 632.2)">WEE1</text>
<text x="350.35" y="632.2" font-size="8.3" text-anchor="end" transform="rotate(-45 350.35 632.2)">RPA1</text>
<text x="365.75" y="632.2" font-size="8.3" text-anchor="end" transform="rotate(-45 365.75 632.2)">KU70</text>
<text x="381.15" y="632.2" font-size="8.3" text-anchor="end" transform="rotate(-45 381.15 632.2)">BACT</text>
<text x="300.55" y="572.6" font-size="8.6" text-anchor="middle" font-weight="bold">**</text>
<text x="331.35" y="514.7" font-size="8.6" text-anchor="middle" font-weight="bold">***</text>
<text x="346.75" y="572.6" font-size="8.6" text-anchor="middle" font-weight="bold">**</text>
<text x="362.15" y="550.8" font-size="8.6" text-anchor="middle" font-weight="bold">*</text>
<text x="270.4" y="566.7" font-size="7.85" text-anchor="middle" transform="rotate(-90 270.4 566.7)">Fold change in THOC4-bound</text>
<text x="280" y="566.7" font-size="7.8" text-anchor="middle" transform="rotate(-90 280 566.7)">transcripts compared to vehicle</text>
<rect x="425.8" y="536.04" width="9.1" height="90.06" fill="#fff" stroke="#c05862" stroke-width="1.4"/>
<rect x="441.3" y="525.612" width="9.1" height="100.488" fill="#fff" stroke="#c05862" stroke-width="1.4"/>
<rect x="456.8" y="556.58" width="9.1" height="69.52" fill="#fff" stroke="#c05862" stroke-width="1.4"/>
<rect x="472.3" y="592.92" width="9.1" height="33.18" fill="#fff" stroke="#c05862" stroke-width="1.4"/>
<rect x="487.8" y="571.432" width="9.1" height="54.668" fill="#fff" stroke="#c05862" stroke-width="1.4"/>
<rect x="503.3" y="594.5" width="9.1" height="31.6" fill="#fff" stroke="#c05862" stroke-width="1.4"/>
<line x1="430.35" y1="528.772" x2="430.35" y2="540.78" stroke="#c05862" stroke-width="1.1"/>
<line x1="427.62" y1="528.772" x2="433.08" y2="528.772" stroke="#c05862" stroke-width="1.1"/>
<line x1="427.62" y1="540.78" x2="433.08" y2="540.78" stroke="#c05862" stroke-width="1.1"/>
<line x1="445.85" y1="512.34" x2="445.85" y2="537.62" stroke="#c05862" stroke-width="1.1"/>
<line x1="443.12" y1="512.34" x2="448.58" y2="512.34" stroke="#c05862" stroke-width="1.1"/>
<line x1="443.12" y1="537.62" x2="448.58" y2="537.62" stroke="#c05862" stroke-width="1.1"/>
<line x1="461.35" y1="549.628" x2="461.35" y2="561.32" stroke="#c05862" stroke-width="1.1"/>
<line x1="458.62" y1="549.628" x2="464.08" y2="549.628" stroke="#c05862" stroke-width="1.1"/>
<line x1="458.62" y1="561.32" x2="464.08" y2="561.32" stroke="#c05862" stroke-width="1.1"/>
<line x1="476.85" y1="592.288" x2="476.85" y2="593.552" stroke="#c05862" stroke-width="1.1"/>
<line x1="474.12" y1="592.288" x2="479.58" y2="592.288" stroke="#c05862" stroke-width="1.1"/>
<line x1="474.12" y1="593.552" x2="479.58" y2="593.552" stroke="#c05862" stroke-width="1.1"/>
<line x1="492.35" y1="562.9" x2="492.35" y2="578.7" stroke="#c05862" stroke-width="1.1"/>
<line x1="489.62" y1="562.9" x2="495.08" y2="562.9" stroke="#c05862" stroke-width="1.1"/>
<line x1="489.62" y1="578.7" x2="495.08" y2="578.7" stroke="#c05862" stroke-width="1.1"/>
<line x1="507.85" y1="590.708" x2="507.85" y2="597.66" stroke="#c05862" stroke-width="1.1"/>
<line x1="505.12" y1="590.708" x2="510.58" y2="590.708" stroke="#c05862" stroke-width="1.1"/>
<line x1="505.12" y1="597.66" x2="510.58" y2="597.66" stroke="#c05862" stroke-width="1.1"/>
<line x1="419.9" y1="594.5" x2="519" y2="594.5" stroke="#c05862" stroke-width="0.9" stroke-dasharray="1 1.1"/>
<line x1="419.9" y1="499.7" x2="419.9" y2="626.1" stroke="#222" stroke-width="1.2"/>
<line x1="418.4" y1="626.1" x2="419.9" y2="626.1" stroke="#222" stroke-width="1.2"/>
<text x="416.8" y="629.1" font-size="8" text-anchor="end">0</text>
<line x1="418.4" y1="594.5" x2="419.9" y2="594.5" stroke="#222" stroke-width="1.2"/>
<text x="416.8" y="597.5" font-size="8" text-anchor="end">1</text>
<line x1="418.4" y1="562.9" x2="419.9" y2="562.9" stroke="#222" stroke-width="1.2"/>
<text x="416.8" y="565.9" font-size="8" text-anchor="end">2</text>
<line x1="418.4" y1="531.3" x2="419.9" y2="531.3" stroke="#222" stroke-width="1.2"/>
<text x="416.8" y="534.3" font-size="8" text-anchor="end">3</text>
<line x1="418.4" y1="499.7" x2="419.9" y2="499.7" stroke="#222" stroke-width="1.2"/>
<text x="416.8" y="502.7" font-size="8" text-anchor="end">4</text>
<line x1="419.9" y1="626.1" x2="517.8" y2="626.1" stroke="#222" stroke-width="1.15"/>
<line x1="430.35" y1="626.1" x2="430.35" y2="628.9" stroke="#222" stroke-width="1.15"/>
<line x1="445.85" y1="626.1" x2="445.85" y2="628.9" stroke="#222" stroke-width="1.15"/>
<line x1="461.35" y1="626.1" x2="461.35" y2="628.9" stroke="#222" stroke-width="1.15"/>
<line x1="476.85" y1="626.1" x2="476.85" y2="628.9" stroke="#222" stroke-width="1.15"/>
<line x1="492.35" y1="626.1" x2="492.35" y2="628.9" stroke="#222" stroke-width="1.15"/>
<line x1="507.85" y1="626.1" x2="507.85" y2="628.9" stroke="#222" stroke-width="1.15"/>
<text x="433.95" y="633.7" font-size="8.3" text-anchor="end" transform="rotate(-45 433.95 633.7)">CHEK1</text>
<text x="449.45" y="633.7" font-size="8.3" text-anchor="end" transform="rotate(-45 449.45 633.7)">RAD51</text>
<text x="464.95" y="633.7" font-size="8.3" text-anchor="end" transform="rotate(-45 464.95 633.7)">WEE1</text>
<text x="480.45" y="633.7" font-size="8.3" text-anchor="end" transform="rotate(-45 480.45 633.7)">RPA1</text>
<text x="495.95" y="633.7" font-size="8.3" text-anchor="end" transform="rotate(-45 495.95 633.7)">KU70</text>
<text x="511.45" y="633.7" font-size="8.3" text-anchor="end" transform="rotate(-45 511.45 633.7)">BACT</text>
<text x="430.35" y="527.6" font-size="8.6" text-anchor="middle" font-weight="bold">**</text>
<text x="445.85" y="511.7" font-size="8.6" text-anchor="middle" font-weight="bold">**</text>
<text x="461.35" y="550.3" font-size="8.6" text-anchor="middle" font-weight="bold">*</text>
<text x="492.35" y="561.8" font-size="8.6" text-anchor="middle" font-weight="bold">*</text>
<text x="399" y="563.1" font-size="8" text-anchor="middle" transform="rotate(-90 399 563.1)">Fold change in EIF4E-bound</text>
<text x="407.6" y="562.6" font-size="7.85" text-anchor="middle" transform="rotate(-90 407.6 562.6)">transcripts compared to vehicle</text>
</svg>
</body></html>
